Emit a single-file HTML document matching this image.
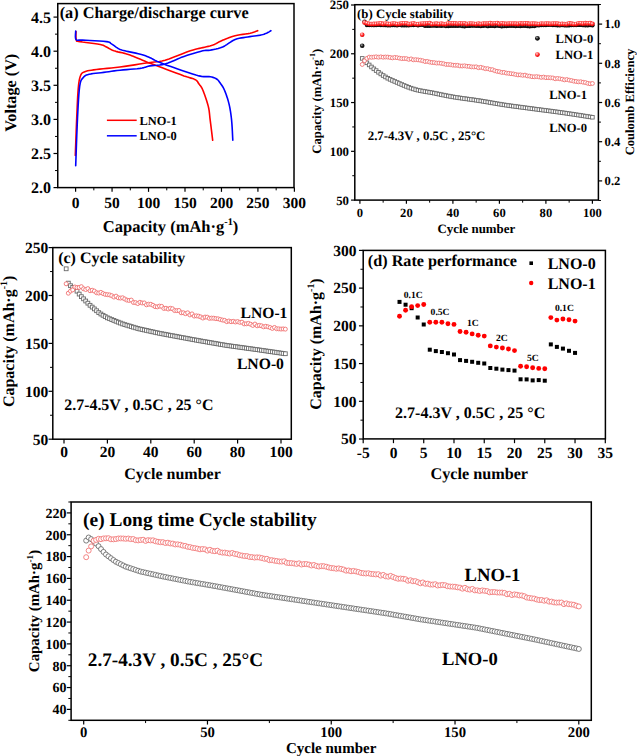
<!DOCTYPE html>
<html><head><meta charset="utf-8"><style>
html,body{margin:0;padding:0;background:#fff;width:637px;height:756px;overflow:hidden}
svg{display:block}
</style></head><body>
<svg width="637" height="756" viewBox="0 0 637 756" font-family="Liberation Serif" font-weight="bold" text-rendering="geometricPrecision">
<rect width="637" height="756" fill="#fff"/>
<defs>
<radialGradient id="gr" cx="0.4" cy="0.35" r="0.65"><stop offset="0" stop-color="#fff0f0"/><stop offset="0.35" stop-color="#ff6060"/><stop offset="0.7" stop-color="#ff1010"/><stop offset="1" stop-color="#d00000"/></radialGradient>
<radialGradient id="gk" cx="0.4" cy="0.35" r="0.65"><stop offset="0" stop-color="#bbbbbb"/><stop offset="0.45" stop-color="#222"/><stop offset="1" stop-color="#000"/></radialGradient>
</defs>
<rect x="57.75" y="3.60" width="236.25" height="184.00" fill="none" stroke="#000" stroke-width="1.5"/>
<line x1="57.75" y1="187.60" x2="53.50" y2="187.60" stroke="#000" stroke-width="1.2"/>
<line x1="57.75" y1="153.50" x2="53.50" y2="153.50" stroke="#000" stroke-width="1.2"/>
<line x1="57.75" y1="119.40" x2="53.50" y2="119.40" stroke="#000" stroke-width="1.2"/>
<line x1="57.75" y1="85.30" x2="53.50" y2="85.30" stroke="#000" stroke-width="1.2"/>
<line x1="57.75" y1="51.20" x2="53.50" y2="51.20" stroke="#000" stroke-width="1.2"/>
<line x1="57.75" y1="17.10" x2="53.50" y2="17.10" stroke="#000" stroke-width="1.2"/>
<line x1="57.75" y1="170.55" x2="55.00" y2="170.55" stroke="#000" stroke-width="1.0"/>
<line x1="57.75" y1="136.45" x2="55.00" y2="136.45" stroke="#000" stroke-width="1.0"/>
<line x1="57.75" y1="102.35" x2="55.00" y2="102.35" stroke="#000" stroke-width="1.0"/>
<line x1="57.75" y1="68.25" x2="55.00" y2="68.25" stroke="#000" stroke-width="1.0"/>
<line x1="57.75" y1="34.15" x2="55.00" y2="34.15" stroke="#000" stroke-width="1.0"/>
<text x="51.0" y="193.0" font-size="16" text-anchor="end" >2.0</text>
<text x="51.0" y="158.9" font-size="16" text-anchor="end" >2.5</text>
<text x="51.0" y="124.8" font-size="16" text-anchor="end" >3.0</text>
<text x="51.0" y="90.7" font-size="16" text-anchor="end" >3.5</text>
<text x="51.0" y="56.6" font-size="16" text-anchor="end" >4.0</text>
<text x="51.0" y="22.5" font-size="16" text-anchor="end" >4.5</text>
<line x1="75.60" y1="187.60" x2="75.60" y2="191.85" stroke="#000" stroke-width="1.2"/>
<line x1="112.06" y1="187.60" x2="112.06" y2="191.85" stroke="#000" stroke-width="1.2"/>
<line x1="148.53" y1="187.60" x2="148.53" y2="191.85" stroke="#000" stroke-width="1.2"/>
<line x1="185.00" y1="187.60" x2="185.00" y2="191.85" stroke="#000" stroke-width="1.2"/>
<line x1="221.46" y1="187.60" x2="221.46" y2="191.85" stroke="#000" stroke-width="1.2"/>
<line x1="257.92" y1="187.60" x2="257.92" y2="191.85" stroke="#000" stroke-width="1.2"/>
<line x1="294.39" y1="187.60" x2="294.39" y2="191.85" stroke="#000" stroke-width="1.2"/>
<line x1="93.83" y1="187.60" x2="93.83" y2="190.35" stroke="#000" stroke-width="1.0"/>
<line x1="130.30" y1="187.60" x2="130.30" y2="190.35" stroke="#000" stroke-width="1.0"/>
<line x1="166.76" y1="187.60" x2="166.76" y2="190.35" stroke="#000" stroke-width="1.0"/>
<line x1="203.23" y1="187.60" x2="203.23" y2="190.35" stroke="#000" stroke-width="1.0"/>
<line x1="239.69" y1="187.60" x2="239.69" y2="190.35" stroke="#000" stroke-width="1.0"/>
<line x1="276.16" y1="187.60" x2="276.16" y2="190.35" stroke="#000" stroke-width="1.0"/>
<text x="75.6" y="207.6" font-size="15.5" text-anchor="middle" >0</text>
<text x="112.1" y="207.6" font-size="15.5" text-anchor="middle" >50</text>
<text x="148.5" y="207.6" font-size="15.5" text-anchor="middle" >100</text>
<text x="185.0" y="207.6" font-size="15.5" text-anchor="middle" >150</text>
<text x="221.5" y="207.6" font-size="15.5" text-anchor="middle" >200</text>
<text x="257.9" y="207.6" font-size="15.5" text-anchor="middle" >250</text>
<text x="294.4" y="207.6" font-size="15.5" text-anchor="middle" >300</text>
<text x="59.7" y="17.9" font-size="16.3" text-anchor="start" >(a) Charge/discharge curve</text>
<text x="102.8" y="232.1" font-size="16.5" text-anchor="start" >Capacity (mAh·g<tspan font-size="0.62em" dy="-0.72em">-1</tspan><tspan dy="0.446em">)</tspan></text>
<text transform="translate(16.2,92.8) rotate(-90)" x="0" y="0" font-size="16.2" text-anchor="middle">Voltage (V)</text>
<path d="M76.00,31.50 L75.99,32.52 L75.95,33.99 L75.92,35.71 L75.94,37.44 L76.05,38.98 L76.30,40.10 L76.53,40.74 L76.67,41.07 L76.91,41.21 L77.42,41.26 L78.39,41.35 L80.00,41.60 L82.57,42.01 L86.03,42.48 L89.94,42.99 L93.89,43.51 L97.45,44.02 L100.20,44.50 L102.03,44.92 L103.25,45.31 L104.09,45.69 L104.75,46.09 L105.45,46.51 L106.40,47.00 L107.53,47.57 L108.65,48.20 L109.81,48.86 L111.05,49.54 L112.43,50.19 L114.00,50.80 L115.83,51.35 L117.89,51.86 L120.09,52.35 L122.33,52.84 L124.50,53.35 L126.50,53.90 L128.30,54.48 L129.98,55.07 L131.59,55.68 L133.19,56.32 L134.84,56.99 L136.60,57.70 L138.50,58.48 L140.49,59.32 L142.54,60.20 L144.59,61.08 L146.59,61.92 L148.50,62.70 L150.14,63.34 L151.50,63.85 L152.82,64.33 L154.32,64.86 L156.24,65.56 L158.80,66.50 L162.30,67.81 L166.61,69.43 L171.34,71.20 L176.08,72.97 L180.43,74.59 L184.00,75.90 L186.78,76.85 L189.08,77.56 L190.99,78.11 L192.61,78.60 L194.02,79.10 L195.30,79.70 L196.36,80.38 L197.09,81.07 L197.62,81.77 L198.04,82.50 L198.47,83.27 L199.00,84.10 L199.61,84.87 L200.20,85.57 L200.79,86.30 L201.40,87.20 L202.07,88.39 L202.80,90.00 L203.66,92.16 L204.64,94.79 L205.67,97.71 L206.67,100.74 L207.57,103.70 L208.30,106.40 L208.82,108.78 L209.18,110.96 L209.44,113.07 L209.66,115.23 L209.89,117.57 L210.20,120.20 L210.61,123.42 L211.08,127.18 L211.57,131.11 L212.03,134.86 L212.42,138.04 L212.70,140.30" fill="none" stroke="#ff0000" stroke-width="1.6" stroke-linejoin="round" stroke-linecap="round"/>
<path d="M75.30,155.40 L75.45,151.27 L75.66,145.49 L75.91,138.68 L76.17,131.46 L76.44,124.46 L76.70,118.30 L76.94,112.79 L77.17,107.39 L77.40,102.20 L77.64,97.35 L77.91,92.94 L78.20,89.10 L78.50,85.88 L78.80,83.21 L79.12,80.99 L79.48,79.12 L79.90,77.49 L80.40,76.00 L80.92,74.75 L81.44,73.84 L82.01,73.17 L82.72,72.65 L83.62,72.19 L84.80,71.70 L86.18,71.22 L87.69,70.82 L89.40,70.49 L91.38,70.18 L93.69,69.86 L96.40,69.50 L99.58,69.12 L103.20,68.76 L107.14,68.38 L111.33,67.98 L115.64,67.52 L120.00,67.00 L124.60,66.37 L129.58,65.63 L134.69,64.85 L139.70,64.07 L144.38,63.33 L148.50,62.70 L151.86,62.26 L154.60,61.99 L157.01,61.77 L159.37,61.48 L161.97,61.00 L165.10,60.20 L168.95,58.96 L173.33,57.35 L177.96,55.54 L182.52,53.73 L186.74,52.09 L190.30,50.80 L193.15,49.90 L195.50,49.25 L197.49,48.77 L199.28,48.39 L201.00,48.02 L202.80,47.60 L204.66,47.16 L206.46,46.76 L208.19,46.38 L209.84,46.00 L211.42,45.58 L212.90,45.10 L214.27,44.54 L215.52,43.91 L216.69,43.26 L217.80,42.60 L218.90,41.97 L220.00,41.40 L221.07,40.91 L222.07,40.47 L223.04,40.06 L224.04,39.66 L225.11,39.25 L226.30,38.80 L227.55,38.31 L228.81,37.78 L230.15,37.24 L231.61,36.71 L233.24,36.19 L235.10,35.70 L237.34,35.25 L239.95,34.82 L242.73,34.41 L245.50,34.01 L248.05,33.61 L250.20,33.20 L251.98,32.75 L253.54,32.27 L254.89,31.79 L256.04,31.35 L256.97,30.97 L257.70,30.70" fill="none" stroke="#ff0000" stroke-width="1.6" stroke-linejoin="round" stroke-linecap="round"/>
<path d="M75.70,31.10 L75.66,32.10 L75.54,33.57 L75.44,35.26 L75.42,36.97 L75.58,38.45 L76.00,39.50 L76.54,40.04 L77.10,40.24 L77.83,40.23 L78.89,40.12 L80.43,40.04 L82.60,40.10 L85.79,40.29 L89.95,40.50 L94.59,40.74 L99.21,41.01 L103.32,41.29 L106.40,41.60 L108.30,41.91 L109.40,42.21 L109.97,42.53 L110.31,42.90 L110.73,43.35 L111.50,43.90 L112.61,44.61 L113.82,45.47 L115.10,46.40 L116.41,47.33 L117.72,48.19 L119.00,48.90 L120.18,49.43 L121.26,49.84 L122.35,50.18 L123.53,50.48 L124.88,50.81 L126.50,51.20 L128.50,51.65 L130.82,52.13 L133.32,52.63 L135.85,53.14 L138.26,53.66 L140.40,54.20 L142.26,54.74 L143.95,55.30 L145.52,55.86 L147.02,56.45 L148.50,57.06 L150.00,57.70 L151.40,58.35 L152.62,59.01 L153.82,59.69 L155.15,60.41 L156.76,61.21 L158.80,62.10 L161.34,63.11 L164.26,64.21 L167.47,65.39 L170.85,66.61 L174.29,67.82 L177.70,69.00 L181.23,70.22 L184.99,71.52 L188.82,72.83 L192.54,74.04 L196.00,75.10 L199.00,75.90 L201.53,76.38 L203.73,76.60 L205.64,76.64 L207.35,76.63 L208.92,76.64 L210.40,76.80 L211.77,77.07 L212.96,77.38 L214.00,77.72 L214.93,78.10 L215.79,78.53 L216.60,79.00 L217.32,79.50 L217.90,80.02 L218.41,80.59 L218.90,81.22 L219.41,81.95 L220.00,82.80 L220.67,83.73 L221.39,84.70 L222.12,85.77 L222.88,86.98 L223.64,88.37 L224.40,90.00 L225.18,91.90 L225.99,94.05 L226.81,96.38 L227.61,98.84 L228.35,101.37 L229.00,103.90 L229.57,106.43 L230.07,109.01 L230.51,111.66 L230.91,114.40 L231.27,117.24 L231.60,120.20 L231.89,123.56 L232.15,127.36 L232.36,131.27 L232.54,134.95 L232.69,138.07 L232.80,140.30" fill="none" stroke="#0000ff" stroke-width="1.6" stroke-linejoin="round" stroke-linecap="round"/>
<path d="M75.70,165.60 L75.89,160.28 L76.15,152.77 L76.46,143.96 L76.80,134.69 L77.16,125.85 L77.50,118.30 L77.83,111.80 L78.15,105.61 L78.49,99.84 L78.85,94.60 L79.25,90.02 L79.70,86.20 L80.19,83.33 L80.71,81.36 L81.28,80.04 L81.89,79.13 L82.56,78.36 L83.30,77.50 L84.04,76.63 L84.74,75.98 L85.51,75.48 L86.43,75.07 L87.60,74.69 L89.10,74.30 L91.00,73.91 L93.25,73.58 L95.74,73.29 L98.38,73.01 L101.07,72.72 L103.70,72.40 L106.28,72.05 L108.87,71.67 L111.51,71.29 L114.23,70.91 L117.05,70.55 L120.00,70.20 L123.23,69.88 L126.76,69.60 L130.39,69.32 L133.94,69.04 L137.20,68.74 L140.00,68.40 L142.19,68.02 L143.89,67.60 L145.31,67.16 L146.66,66.71 L148.15,66.29 L150.00,65.90 L152.18,65.61 L154.51,65.43 L156.99,65.27 L159.60,65.03 L162.30,64.64 L165.10,64.00 L168.03,63.04 L171.12,61.81 L174.32,60.43 L177.57,59.00 L180.81,57.62 L184.00,56.40 L187.27,55.29 L190.70,54.20 L194.13,53.16 L197.40,52.22 L200.34,51.42 L202.80,50.80 L204.61,50.44 L205.86,50.33 L206.79,50.35 L207.63,50.41 L208.62,50.39 L210.00,50.20 L211.79,49.87 L213.80,49.49 L215.97,49.03 L218.21,48.48 L220.44,47.81 L222.60,47.00 L224.69,45.94 L226.77,44.63 L228.85,43.21 L230.93,41.79 L233.01,40.51 L235.10,39.50 L237.19,38.79 L239.29,38.27 L241.39,37.90 L243.50,37.60 L245.60,37.32 L247.70,37.00 L249.87,36.65 L252.14,36.32 L254.40,36.01 L256.57,35.71 L258.57,35.41 L260.30,35.10 L261.72,34.79 L262.91,34.49 L263.91,34.19 L264.80,33.88 L265.64,33.55 L266.50,33.20 L267.39,32.79 L268.26,32.32 L269.09,31.83 L269.83,31.37 L270.44,30.98 L270.90,30.70" fill="none" stroke="#0000ff" stroke-width="1.6" stroke-linejoin="round" stroke-linecap="round"/>
<line x1="106.90" y1="120.30" x2="136.70" y2="120.30" stroke="#ff0000" stroke-width="1.5"/>
<line x1="106.90" y1="135.80" x2="136.70" y2="135.80" stroke="#0000ff" stroke-width="1.5"/>
<text x="139.6" y="124.8" font-size="12.4" text-anchor="start" >LNO-1</text>
<text x="139.6" y="140.2" font-size="12.4" text-anchor="start" >LNO-0</text>
<rect x="354.80" y="4.70" width="243.60" height="195.40" fill="none" stroke="#000" stroke-width="1.5"/>
<line x1="354.80" y1="200.10" x2="351.05" y2="200.10" stroke="#000" stroke-width="1.2"/>
<line x1="354.80" y1="151.33" x2="351.05" y2="151.33" stroke="#000" stroke-width="1.2"/>
<line x1="354.80" y1="102.55" x2="351.05" y2="102.55" stroke="#000" stroke-width="1.2"/>
<line x1="354.80" y1="53.77" x2="351.05" y2="53.77" stroke="#000" stroke-width="1.2"/>
<line x1="354.80" y1="5.00" x2="351.05" y2="5.00" stroke="#000" stroke-width="1.2"/>
<line x1="354.80" y1="175.71" x2="352.25" y2="175.71" stroke="#000" stroke-width="1.0"/>
<line x1="354.80" y1="126.94" x2="352.25" y2="126.94" stroke="#000" stroke-width="1.0"/>
<line x1="354.80" y1="78.16" x2="352.25" y2="78.16" stroke="#000" stroke-width="1.0"/>
<line x1="354.80" y1="29.39" x2="352.25" y2="29.39" stroke="#000" stroke-width="1.0"/>
<text x="349.0" y="204.5" font-size="12.8" text-anchor="end" >50</text>
<text x="349.0" y="155.7" font-size="12.8" text-anchor="end" >100</text>
<text x="349.0" y="106.9" font-size="12.8" text-anchor="end" >150</text>
<text x="349.0" y="58.1" font-size="12.8" text-anchor="end" >200</text>
<text x="349.0" y="9.4" font-size="12.8" text-anchor="end" >250</text>
<line x1="598.40" y1="180.90" x2="602.15" y2="180.90" stroke="#000" stroke-width="1.2"/>
<line x1="598.40" y1="141.70" x2="602.15" y2="141.70" stroke="#000" stroke-width="1.2"/>
<line x1="598.40" y1="102.50" x2="602.15" y2="102.50" stroke="#000" stroke-width="1.2"/>
<line x1="598.40" y1="63.30" x2="602.15" y2="63.30" stroke="#000" stroke-width="1.2"/>
<line x1="598.40" y1="24.10" x2="602.15" y2="24.10" stroke="#000" stroke-width="1.2"/>
<line x1="598.40" y1="200.50" x2="600.95" y2="200.50" stroke="#000" stroke-width="1.0"/>
<line x1="598.40" y1="161.30" x2="600.95" y2="161.30" stroke="#000" stroke-width="1.0"/>
<line x1="598.40" y1="122.10" x2="600.95" y2="122.10" stroke="#000" stroke-width="1.0"/>
<line x1="598.40" y1="82.90" x2="600.95" y2="82.90" stroke="#000" stroke-width="1.0"/>
<line x1="598.40" y1="43.70" x2="600.95" y2="43.70" stroke="#000" stroke-width="1.0"/>
<line x1="598.40" y1="4.50" x2="600.95" y2="4.50" stroke="#000" stroke-width="1.0"/>
<text x="604.6" y="185.2" font-size="12.6" text-anchor="start" >0.2</text>
<text x="604.6" y="146.0" font-size="12.6" text-anchor="start" >0.4</text>
<text x="604.6" y="106.8" font-size="12.6" text-anchor="start" >0.6</text>
<text x="604.6" y="67.6" font-size="12.6" text-anchor="start" >0.8</text>
<text x="604.6" y="28.4" font-size="12.6" text-anchor="start" >1.0</text>
<line x1="359.90" y1="200.10" x2="359.90" y2="203.85" stroke="#000" stroke-width="1.2"/>
<line x1="406.40" y1="200.10" x2="406.40" y2="203.85" stroke="#000" stroke-width="1.2"/>
<line x1="452.90" y1="200.10" x2="452.90" y2="203.85" stroke="#000" stroke-width="1.2"/>
<line x1="499.40" y1="200.10" x2="499.40" y2="203.85" stroke="#000" stroke-width="1.2"/>
<line x1="545.90" y1="200.10" x2="545.90" y2="203.85" stroke="#000" stroke-width="1.2"/>
<line x1="592.40" y1="200.10" x2="592.40" y2="203.85" stroke="#000" stroke-width="1.2"/>
<line x1="383.15" y1="200.10" x2="383.15" y2="202.65" stroke="#000" stroke-width="1.0"/>
<line x1="429.65" y1="200.10" x2="429.65" y2="202.65" stroke="#000" stroke-width="1.0"/>
<line x1="476.15" y1="200.10" x2="476.15" y2="202.65" stroke="#000" stroke-width="1.0"/>
<line x1="522.65" y1="200.10" x2="522.65" y2="202.65" stroke="#000" stroke-width="1.0"/>
<line x1="569.15" y1="200.10" x2="569.15" y2="202.65" stroke="#000" stroke-width="1.0"/>
<text x="359.9" y="217.0" font-size="12.6" text-anchor="middle" >0</text>
<text x="406.4" y="217.0" font-size="12.6" text-anchor="middle" >20</text>
<text x="452.9" y="217.0" font-size="12.6" text-anchor="middle" >40</text>
<text x="499.4" y="217.0" font-size="12.6" text-anchor="middle" >60</text>
<text x="545.9" y="217.0" font-size="12.6" text-anchor="middle" >80</text>
<text x="592.4" y="217.0" font-size="12.6" text-anchor="middle" >100</text>
<text x="357.1" y="17.7" font-size="12.8" text-anchor="start" >(b) Cycle stability</text>
<text x="437.5" y="233.4" font-size="12.9" text-anchor="start" >Cycle number</text>
<text transform="translate(321.2,101.3) rotate(-90)" x="0" y="0" font-size="12.8" text-anchor="middle">Capacity (mAh·g<tspan font-size="0.62em" dy="-0.72em">-1</tspan><tspan dy="0.446em">)</tspan></text>
<text transform="translate(633.5,102.0) rotate(-90)" x="0" y="0" font-size="12.6" text-anchor="middle">Coulomb Efficiency</text>
<text x="367.7" y="139.8" font-size="12.9" text-anchor="start" >2.7-4.3V , 0.5C , 25°C</text>
<text x="549.2" y="99.1" font-size="12.6" text-anchor="start" >LNO-1</text>
<text x="549.2" y="132.0" font-size="12.6" text-anchor="start" >LNO-0</text>
<text x="555.5" y="42.8" font-size="12.6" text-anchor="start" >LNO-0</text>
<text x="555.5" y="58.9" font-size="12.6" text-anchor="start" >LNO-1</text>
<g><rect x="360.42" y="56.61" width="3.6" height="3.6" fill="#fff" stroke="#6a6a6a" stroke-width="0.9"/><rect x="362.75" y="58.83" width="3.6" height="3.6" fill="#fff" stroke="#6a6a6a" stroke-width="0.9"/><rect x="365.07" y="61.03" width="3.6" height="3.6" fill="#fff" stroke="#6a6a6a" stroke-width="0.9"/><rect x="367.40" y="63.14" width="3.6" height="3.6" fill="#fff" stroke="#6a6a6a" stroke-width="0.9"/><rect x="369.72" y="65.17" width="3.6" height="3.6" fill="#fff" stroke="#6a6a6a" stroke-width="0.9"/><rect x="372.05" y="67.03" width="3.6" height="3.6" fill="#fff" stroke="#6a6a6a" stroke-width="0.9"/><rect x="374.37" y="68.78" width="3.6" height="3.6" fill="#fff" stroke="#6a6a6a" stroke-width="0.9"/><rect x="376.70" y="70.50" width="3.6" height="3.6" fill="#fff" stroke="#6a6a6a" stroke-width="0.9"/><rect x="379.02" y="72.16" width="3.6" height="3.6" fill="#fff" stroke="#6a6a6a" stroke-width="0.9"/><rect x="381.35" y="73.72" width="3.6" height="3.6" fill="#fff" stroke="#6a6a6a" stroke-width="0.9"/><rect x="383.67" y="75.14" width="3.6" height="3.6" fill="#fff" stroke="#6a6a6a" stroke-width="0.9"/><rect x="386.00" y="76.44" width="3.6" height="3.6" fill="#fff" stroke="#6a6a6a" stroke-width="0.9"/><rect x="388.32" y="77.58" width="3.6" height="3.6" fill="#fff" stroke="#6a6a6a" stroke-width="0.9"/><rect x="390.65" y="78.63" width="3.6" height="3.6" fill="#fff" stroke="#6a6a6a" stroke-width="0.9"/><rect x="392.97" y="79.65" width="3.6" height="3.6" fill="#fff" stroke="#6a6a6a" stroke-width="0.9"/><rect x="395.30" y="80.67" width="3.6" height="3.6" fill="#fff" stroke="#6a6a6a" stroke-width="0.9"/><rect x="397.62" y="81.69" width="3.6" height="3.6" fill="#fff" stroke="#6a6a6a" stroke-width="0.9"/><rect x="399.95" y="82.70" width="3.6" height="3.6" fill="#fff" stroke="#6a6a6a" stroke-width="0.9"/><rect x="402.27" y="83.68" width="3.6" height="3.6" fill="#fff" stroke="#6a6a6a" stroke-width="0.9"/><rect x="404.60" y="84.62" width="3.6" height="3.6" fill="#fff" stroke="#6a6a6a" stroke-width="0.9"/><rect x="406.92" y="85.52" width="3.6" height="3.6" fill="#fff" stroke="#6a6a6a" stroke-width="0.9"/><rect x="409.25" y="86.36" width="3.6" height="3.6" fill="#fff" stroke="#6a6a6a" stroke-width="0.9"/><rect x="411.57" y="87.13" width="3.6" height="3.6" fill="#fff" stroke="#6a6a6a" stroke-width="0.9"/><rect x="413.90" y="87.81" width="3.6" height="3.6" fill="#fff" stroke="#6a6a6a" stroke-width="0.9"/><rect x="416.22" y="88.38" width="3.6" height="3.6" fill="#fff" stroke="#6a6a6a" stroke-width="0.9"/><rect x="418.55" y="88.87" width="3.6" height="3.6" fill="#fff" stroke="#6a6a6a" stroke-width="0.9"/><rect x="420.87" y="89.31" width="3.6" height="3.6" fill="#fff" stroke="#6a6a6a" stroke-width="0.9"/><rect x="423.20" y="89.72" width="3.6" height="3.6" fill="#fff" stroke="#6a6a6a" stroke-width="0.9"/><rect x="425.52" y="90.11" width="3.6" height="3.6" fill="#fff" stroke="#6a6a6a" stroke-width="0.9"/><rect x="427.85" y="90.50" width="3.6" height="3.6" fill="#fff" stroke="#6a6a6a" stroke-width="0.9"/><rect x="430.17" y="90.91" width="3.6" height="3.6" fill="#fff" stroke="#6a6a6a" stroke-width="0.9"/><rect x="432.50" y="91.36" width="3.6" height="3.6" fill="#fff" stroke="#6a6a6a" stroke-width="0.9"/><rect x="434.82" y="91.84" width="3.6" height="3.6" fill="#fff" stroke="#6a6a6a" stroke-width="0.9"/><rect x="437.15" y="92.33" width="3.6" height="3.6" fill="#fff" stroke="#6a6a6a" stroke-width="0.9"/><rect x="439.47" y="92.82" width="3.6" height="3.6" fill="#fff" stroke="#6a6a6a" stroke-width="0.9"/><rect x="441.80" y="93.31" width="3.6" height="3.6" fill="#fff" stroke="#6a6a6a" stroke-width="0.9"/><rect x="444.12" y="93.78" width="3.6" height="3.6" fill="#fff" stroke="#6a6a6a" stroke-width="0.9"/><rect x="446.45" y="94.23" width="3.6" height="3.6" fill="#fff" stroke="#6a6a6a" stroke-width="0.9"/><rect x="448.77" y="94.66" width="3.6" height="3.6" fill="#fff" stroke="#6a6a6a" stroke-width="0.9"/><rect x="451.10" y="95.07" width="3.6" height="3.6" fill="#fff" stroke="#6a6a6a" stroke-width="0.9"/><rect x="453.42" y="95.44" width="3.6" height="3.6" fill="#fff" stroke="#6a6a6a" stroke-width="0.9"/><rect x="455.75" y="95.80" width="3.6" height="3.6" fill="#fff" stroke="#6a6a6a" stroke-width="0.9"/><rect x="458.07" y="96.14" width="3.6" height="3.6" fill="#fff" stroke="#6a6a6a" stroke-width="0.9"/><rect x="460.40" y="96.47" width="3.6" height="3.6" fill="#fff" stroke="#6a6a6a" stroke-width="0.9"/><rect x="462.72" y="96.80" width="3.6" height="3.6" fill="#fff" stroke="#6a6a6a" stroke-width="0.9"/><rect x="465.05" y="97.12" width="3.6" height="3.6" fill="#fff" stroke="#6a6a6a" stroke-width="0.9"/><rect x="467.37" y="97.44" width="3.6" height="3.6" fill="#fff" stroke="#6a6a6a" stroke-width="0.9"/><rect x="469.70" y="97.76" width="3.6" height="3.6" fill="#fff" stroke="#6a6a6a" stroke-width="0.9"/><rect x="472.02" y="98.09" width="3.6" height="3.6" fill="#fff" stroke="#6a6a6a" stroke-width="0.9"/><rect x="474.35" y="98.42" width="3.6" height="3.6" fill="#fff" stroke="#6a6a6a" stroke-width="0.9"/><rect x="476.67" y="98.77" width="3.6" height="3.6" fill="#fff" stroke="#6a6a6a" stroke-width="0.9"/><rect x="479.00" y="99.13" width="3.6" height="3.6" fill="#fff" stroke="#6a6a6a" stroke-width="0.9"/><rect x="481.32" y="99.50" width="3.6" height="3.6" fill="#fff" stroke="#6a6a6a" stroke-width="0.9"/><rect x="483.65" y="99.89" width="3.6" height="3.6" fill="#fff" stroke="#6a6a6a" stroke-width="0.9"/><rect x="485.97" y="100.29" width="3.6" height="3.6" fill="#fff" stroke="#6a6a6a" stroke-width="0.9"/><rect x="488.30" y="100.70" width="3.6" height="3.6" fill="#fff" stroke="#6a6a6a" stroke-width="0.9"/><rect x="490.62" y="101.11" width="3.6" height="3.6" fill="#fff" stroke="#6a6a6a" stroke-width="0.9"/><rect x="492.95" y="101.52" width="3.6" height="3.6" fill="#fff" stroke="#6a6a6a" stroke-width="0.9"/><rect x="495.27" y="101.92" width="3.6" height="3.6" fill="#fff" stroke="#6a6a6a" stroke-width="0.9"/><rect x="497.60" y="102.31" width="3.6" height="3.6" fill="#fff" stroke="#6a6a6a" stroke-width="0.9"/><rect x="499.93" y="102.69" width="3.6" height="3.6" fill="#fff" stroke="#6a6a6a" stroke-width="0.9"/><rect x="502.25" y="103.05" width="3.6" height="3.6" fill="#fff" stroke="#6a6a6a" stroke-width="0.9"/><rect x="504.57" y="103.39" width="3.6" height="3.6" fill="#fff" stroke="#6a6a6a" stroke-width="0.9"/><rect x="506.90" y="103.73" width="3.6" height="3.6" fill="#fff" stroke="#6a6a6a" stroke-width="0.9"/><rect x="509.22" y="104.05" width="3.6" height="3.6" fill="#fff" stroke="#6a6a6a" stroke-width="0.9"/><rect x="511.55" y="104.37" width="3.6" height="3.6" fill="#fff" stroke="#6a6a6a" stroke-width="0.9"/><rect x="513.88" y="104.69" width="3.6" height="3.6" fill="#fff" stroke="#6a6a6a" stroke-width="0.9"/><rect x="516.20" y="105.00" width="3.6" height="3.6" fill="#fff" stroke="#6a6a6a" stroke-width="0.9"/><rect x="518.53" y="105.31" width="3.6" height="3.6" fill="#fff" stroke="#6a6a6a" stroke-width="0.9"/><rect x="520.85" y="105.62" width="3.6" height="3.6" fill="#fff" stroke="#6a6a6a" stroke-width="0.9"/><rect x="523.18" y="105.92" width="3.6" height="3.6" fill="#fff" stroke="#6a6a6a" stroke-width="0.9"/><rect x="525.50" y="106.23" width="3.6" height="3.6" fill="#fff" stroke="#6a6a6a" stroke-width="0.9"/><rect x="527.83" y="106.53" width="3.6" height="3.6" fill="#fff" stroke="#6a6a6a" stroke-width="0.9"/><rect x="530.15" y="106.84" width="3.6" height="3.6" fill="#fff" stroke="#6a6a6a" stroke-width="0.9"/><rect x="532.48" y="107.15" width="3.6" height="3.6" fill="#fff" stroke="#6a6a6a" stroke-width="0.9"/><rect x="534.80" y="107.46" width="3.6" height="3.6" fill="#fff" stroke="#6a6a6a" stroke-width="0.9"/><rect x="537.12" y="107.76" width="3.6" height="3.6" fill="#fff" stroke="#6a6a6a" stroke-width="0.9"/><rect x="539.45" y="108.07" width="3.6" height="3.6" fill="#fff" stroke="#6a6a6a" stroke-width="0.9"/><rect x="541.78" y="108.37" width="3.6" height="3.6" fill="#fff" stroke="#6a6a6a" stroke-width="0.9"/><rect x="544.10" y="108.67" width="3.6" height="3.6" fill="#fff" stroke="#6a6a6a" stroke-width="0.9"/><rect x="546.43" y="108.97" width="3.6" height="3.6" fill="#fff" stroke="#6a6a6a" stroke-width="0.9"/><rect x="548.75" y="109.27" width="3.6" height="3.6" fill="#fff" stroke="#6a6a6a" stroke-width="0.9"/><rect x="551.08" y="109.58" width="3.6" height="3.6" fill="#fff" stroke="#6a6a6a" stroke-width="0.9"/><rect x="553.40" y="109.89" width="3.6" height="3.6" fill="#fff" stroke="#6a6a6a" stroke-width="0.9"/><rect x="555.73" y="110.20" width="3.6" height="3.6" fill="#fff" stroke="#6a6a6a" stroke-width="0.9"/><rect x="558.05" y="110.52" width="3.6" height="3.6" fill="#fff" stroke="#6a6a6a" stroke-width="0.9"/><rect x="560.38" y="110.84" width="3.6" height="3.6" fill="#fff" stroke="#6a6a6a" stroke-width="0.9"/><rect x="562.70" y="111.17" width="3.6" height="3.6" fill="#fff" stroke="#6a6a6a" stroke-width="0.9"/><rect x="565.03" y="111.51" width="3.6" height="3.6" fill="#fff" stroke="#6a6a6a" stroke-width="0.9"/><rect x="567.35" y="111.86" width="3.6" height="3.6" fill="#fff" stroke="#6a6a6a" stroke-width="0.9"/><rect x="569.68" y="112.21" width="3.6" height="3.6" fill="#fff" stroke="#6a6a6a" stroke-width="0.9"/><rect x="572.00" y="112.56" width="3.6" height="3.6" fill="#fff" stroke="#6a6a6a" stroke-width="0.9"/><rect x="574.33" y="112.92" width="3.6" height="3.6" fill="#fff" stroke="#6a6a6a" stroke-width="0.9"/><rect x="576.65" y="113.28" width="3.6" height="3.6" fill="#fff" stroke="#6a6a6a" stroke-width="0.9"/><rect x="578.98" y="113.64" width="3.6" height="3.6" fill="#fff" stroke="#6a6a6a" stroke-width="0.9"/><rect x="581.30" y="114.00" width="3.6" height="3.6" fill="#fff" stroke="#6a6a6a" stroke-width="0.9"/><rect x="583.62" y="114.37" width="3.6" height="3.6" fill="#fff" stroke="#6a6a6a" stroke-width="0.9"/><rect x="585.95" y="114.73" width="3.6" height="3.6" fill="#fff" stroke="#6a6a6a" stroke-width="0.9"/><rect x="588.28" y="115.09" width="3.6" height="3.6" fill="#fff" stroke="#6a6a6a" stroke-width="0.9"/><rect x="590.60" y="115.45" width="3.6" height="3.6" fill="#fff" stroke="#6a6a6a" stroke-width="0.9"/></g>
<g><circle cx="362.22" cy="64.46" r="1.95" fill="#fff" stroke="#f07070" stroke-width="0.9"/><circle cx="364.55" cy="60.76" r="1.95" fill="#fff" stroke="#f07070" stroke-width="0.9"/><circle cx="366.88" cy="58.36" r="1.95" fill="#fff" stroke="#f07070" stroke-width="0.9"/><circle cx="369.20" cy="57.10" r="1.95" fill="#fff" stroke="#f07070" stroke-width="0.9"/><circle cx="371.52" cy="57.29" r="1.95" fill="#fff" stroke="#f07070" stroke-width="0.9"/><circle cx="373.85" cy="57.08" r="1.95" fill="#fff" stroke="#f07070" stroke-width="0.9"/><circle cx="376.17" cy="56.82" r="1.95" fill="#fff" stroke="#f07070" stroke-width="0.9"/><circle cx="378.50" cy="57.20" r="1.95" fill="#fff" stroke="#f07070" stroke-width="0.9"/><circle cx="380.82" cy="56.86" r="1.95" fill="#fff" stroke="#f07070" stroke-width="0.9"/><circle cx="383.15" cy="57.22" r="1.95" fill="#fff" stroke="#f07070" stroke-width="0.9"/><circle cx="385.47" cy="57.00" r="1.95" fill="#fff" stroke="#f07070" stroke-width="0.9"/><circle cx="387.80" cy="57.09" r="1.95" fill="#fff" stroke="#f07070" stroke-width="0.9"/><circle cx="390.12" cy="57.45" r="1.95" fill="#fff" stroke="#f07070" stroke-width="0.9"/><circle cx="392.45" cy="57.87" r="1.95" fill="#fff" stroke="#f07070" stroke-width="0.9"/><circle cx="394.77" cy="57.43" r="1.95" fill="#fff" stroke="#f07070" stroke-width="0.9"/><circle cx="397.10" cy="57.66" r="1.95" fill="#fff" stroke="#f07070" stroke-width="0.9"/><circle cx="399.42" cy="58.15" r="1.95" fill="#fff" stroke="#f07070" stroke-width="0.9"/><circle cx="401.75" cy="58.60" r="1.95" fill="#fff" stroke="#f07070" stroke-width="0.9"/><circle cx="404.07" cy="58.53" r="1.95" fill="#fff" stroke="#f07070" stroke-width="0.9"/><circle cx="406.40" cy="58.63" r="1.95" fill="#fff" stroke="#f07070" stroke-width="0.9"/><circle cx="408.72" cy="59.35" r="1.95" fill="#fff" stroke="#f07070" stroke-width="0.9"/><circle cx="411.05" cy="58.89" r="1.95" fill="#fff" stroke="#f07070" stroke-width="0.9"/><circle cx="413.38" cy="59.82" r="1.95" fill="#fff" stroke="#f07070" stroke-width="0.9"/><circle cx="415.70" cy="59.67" r="1.95" fill="#fff" stroke="#f07070" stroke-width="0.9"/><circle cx="418.02" cy="59.88" r="1.95" fill="#fff" stroke="#f07070" stroke-width="0.9"/><circle cx="420.35" cy="60.22" r="1.95" fill="#fff" stroke="#f07070" stroke-width="0.9"/><circle cx="422.67" cy="60.74" r="1.95" fill="#fff" stroke="#f07070" stroke-width="0.9"/><circle cx="425.00" cy="61.53" r="1.95" fill="#fff" stroke="#f07070" stroke-width="0.9"/><circle cx="427.32" cy="61.40" r="1.95" fill="#fff" stroke="#f07070" stroke-width="0.9"/><circle cx="429.65" cy="62.09" r="1.95" fill="#fff" stroke="#f07070" stroke-width="0.9"/><circle cx="431.97" cy="62.49" r="1.95" fill="#fff" stroke="#f07070" stroke-width="0.9"/><circle cx="434.30" cy="62.61" r="1.95" fill="#fff" stroke="#f07070" stroke-width="0.9"/><circle cx="436.62" cy="63.08" r="1.95" fill="#fff" stroke="#f07070" stroke-width="0.9"/><circle cx="438.95" cy="63.01" r="1.95" fill="#fff" stroke="#f07070" stroke-width="0.9"/><circle cx="441.27" cy="63.33" r="1.95" fill="#fff" stroke="#f07070" stroke-width="0.9"/><circle cx="443.60" cy="63.75" r="1.95" fill="#fff" stroke="#f07070" stroke-width="0.9"/><circle cx="445.92" cy="64.42" r="1.95" fill="#fff" stroke="#f07070" stroke-width="0.9"/><circle cx="448.25" cy="64.50" r="1.95" fill="#fff" stroke="#f07070" stroke-width="0.9"/><circle cx="450.57" cy="64.68" r="1.95" fill="#fff" stroke="#f07070" stroke-width="0.9"/><circle cx="452.90" cy="65.15" r="1.95" fill="#fff" stroke="#f07070" stroke-width="0.9"/><circle cx="455.22" cy="65.27" r="1.95" fill="#fff" stroke="#f07070" stroke-width="0.9"/><circle cx="457.55" cy="65.34" r="1.95" fill="#fff" stroke="#f07070" stroke-width="0.9"/><circle cx="459.88" cy="65.92" r="1.95" fill="#fff" stroke="#f07070" stroke-width="0.9"/><circle cx="462.20" cy="66.01" r="1.95" fill="#fff" stroke="#f07070" stroke-width="0.9"/><circle cx="464.52" cy="65.81" r="1.95" fill="#fff" stroke="#f07070" stroke-width="0.9"/><circle cx="466.85" cy="66.24" r="1.95" fill="#fff" stroke="#f07070" stroke-width="0.9"/><circle cx="469.17" cy="66.38" r="1.95" fill="#fff" stroke="#f07070" stroke-width="0.9"/><circle cx="471.50" cy="66.85" r="1.95" fill="#fff" stroke="#f07070" stroke-width="0.9"/><circle cx="473.82" cy="66.95" r="1.95" fill="#fff" stroke="#f07070" stroke-width="0.9"/><circle cx="476.15" cy="66.84" r="1.95" fill="#fff" stroke="#f07070" stroke-width="0.9"/><circle cx="478.47" cy="67.68" r="1.95" fill="#fff" stroke="#f07070" stroke-width="0.9"/><circle cx="480.80" cy="67.32" r="1.95" fill="#fff" stroke="#f07070" stroke-width="0.9"/><circle cx="483.12" cy="67.96" r="1.95" fill="#fff" stroke="#f07070" stroke-width="0.9"/><circle cx="485.45" cy="68.68" r="1.95" fill="#fff" stroke="#f07070" stroke-width="0.9"/><circle cx="487.77" cy="68.69" r="1.95" fill="#fff" stroke="#f07070" stroke-width="0.9"/><circle cx="490.10" cy="69.49" r="1.95" fill="#fff" stroke="#f07070" stroke-width="0.9"/><circle cx="492.42" cy="69.68" r="1.95" fill="#fff" stroke="#f07070" stroke-width="0.9"/><circle cx="494.75" cy="70.73" r="1.95" fill="#fff" stroke="#f07070" stroke-width="0.9"/><circle cx="497.07" cy="71.35" r="1.95" fill="#fff" stroke="#f07070" stroke-width="0.9"/><circle cx="499.40" cy="71.71" r="1.95" fill="#fff" stroke="#f07070" stroke-width="0.9"/><circle cx="501.73" cy="72.42" r="1.95" fill="#fff" stroke="#f07070" stroke-width="0.9"/><circle cx="504.05" cy="72.39" r="1.95" fill="#fff" stroke="#f07070" stroke-width="0.9"/><circle cx="506.38" cy="73.08" r="1.95" fill="#fff" stroke="#f07070" stroke-width="0.9"/><circle cx="508.70" cy="73.35" r="1.95" fill="#fff" stroke="#f07070" stroke-width="0.9"/><circle cx="511.02" cy="73.69" r="1.95" fill="#fff" stroke="#f07070" stroke-width="0.9"/><circle cx="513.35" cy="73.92" r="1.95" fill="#fff" stroke="#f07070" stroke-width="0.9"/><circle cx="515.67" cy="74.54" r="1.95" fill="#fff" stroke="#f07070" stroke-width="0.9"/><circle cx="518.00" cy="74.93" r="1.95" fill="#fff" stroke="#f07070" stroke-width="0.9"/><circle cx="520.33" cy="74.85" r="1.95" fill="#fff" stroke="#f07070" stroke-width="0.9"/><circle cx="522.65" cy="75.30" r="1.95" fill="#fff" stroke="#f07070" stroke-width="0.9"/><circle cx="524.98" cy="75.10" r="1.95" fill="#fff" stroke="#f07070" stroke-width="0.9"/><circle cx="527.30" cy="75.89" r="1.95" fill="#fff" stroke="#f07070" stroke-width="0.9"/><circle cx="529.62" cy="76.12" r="1.95" fill="#fff" stroke="#f07070" stroke-width="0.9"/><circle cx="531.95" cy="76.67" r="1.95" fill="#fff" stroke="#f07070" stroke-width="0.9"/><circle cx="534.27" cy="76.80" r="1.95" fill="#fff" stroke="#f07070" stroke-width="0.9"/><circle cx="536.60" cy="76.62" r="1.95" fill="#fff" stroke="#f07070" stroke-width="0.9"/><circle cx="538.92" cy="76.94" r="1.95" fill="#fff" stroke="#f07070" stroke-width="0.9"/><circle cx="541.25" cy="77.39" r="1.95" fill="#fff" stroke="#f07070" stroke-width="0.9"/><circle cx="543.58" cy="77.09" r="1.95" fill="#fff" stroke="#f07070" stroke-width="0.9"/><circle cx="545.90" cy="77.65" r="1.95" fill="#fff" stroke="#f07070" stroke-width="0.9"/><circle cx="548.23" cy="77.62" r="1.95" fill="#fff" stroke="#f07070" stroke-width="0.9"/><circle cx="550.55" cy="77.79" r="1.95" fill="#fff" stroke="#f07070" stroke-width="0.9"/><circle cx="552.88" cy="77.95" r="1.95" fill="#fff" stroke="#f07070" stroke-width="0.9"/><circle cx="555.20" cy="78.74" r="1.95" fill="#fff" stroke="#f07070" stroke-width="0.9"/><circle cx="557.52" cy="78.45" r="1.95" fill="#fff" stroke="#f07070" stroke-width="0.9"/><circle cx="559.85" cy="78.80" r="1.95" fill="#fff" stroke="#f07070" stroke-width="0.9"/><circle cx="562.17" cy="79.18" r="1.95" fill="#fff" stroke="#f07070" stroke-width="0.9"/><circle cx="564.50" cy="79.85" r="1.95" fill="#fff" stroke="#f07070" stroke-width="0.9"/><circle cx="566.83" cy="79.53" r="1.95" fill="#fff" stroke="#f07070" stroke-width="0.9"/><circle cx="569.15" cy="80.14" r="1.95" fill="#fff" stroke="#f07070" stroke-width="0.9"/><circle cx="571.48" cy="80.56" r="1.95" fill="#fff" stroke="#f07070" stroke-width="0.9"/><circle cx="573.80" cy="81.17" r="1.95" fill="#fff" stroke="#f07070" stroke-width="0.9"/><circle cx="576.12" cy="81.47" r="1.95" fill="#fff" stroke="#f07070" stroke-width="0.9"/><circle cx="578.45" cy="81.86" r="1.95" fill="#fff" stroke="#f07070" stroke-width="0.9"/><circle cx="580.77" cy="81.75" r="1.95" fill="#fff" stroke="#f07070" stroke-width="0.9"/><circle cx="583.10" cy="82.22" r="1.95" fill="#fff" stroke="#f07070" stroke-width="0.9"/><circle cx="585.42" cy="82.55" r="1.95" fill="#fff" stroke="#f07070" stroke-width="0.9"/><circle cx="587.75" cy="83.33" r="1.95" fill="#fff" stroke="#f07070" stroke-width="0.9"/><circle cx="590.08" cy="83.76" r="1.95" fill="#fff" stroke="#f07070" stroke-width="0.9"/><circle cx="592.40" cy="83.47" r="1.95" fill="#fff" stroke="#f07070" stroke-width="0.9"/></g>
<g><circle cx="364.55" cy="21.61" r="2.2" fill="url(#gk)"/><circle cx="366.88" cy="24.94" r="2.2" fill="url(#gk)"/><circle cx="369.20" cy="24.94" r="2.2" fill="url(#gk)"/><circle cx="371.52" cy="25.09" r="2.2" fill="url(#gk)"/><circle cx="373.85" cy="25.15" r="2.2" fill="url(#gk)"/><circle cx="376.17" cy="24.96" r="2.2" fill="url(#gk)"/><circle cx="378.50" cy="24.80" r="2.2" fill="url(#gk)"/><circle cx="380.82" cy="25.05" r="2.2" fill="url(#gk)"/><circle cx="383.15" cy="25.02" r="2.2" fill="url(#gk)"/><circle cx="385.47" cy="25.14" r="2.2" fill="url(#gk)"/><circle cx="387.80" cy="25.37" r="2.2" fill="url(#gk)"/><circle cx="390.12" cy="25.21" r="2.2" fill="url(#gk)"/><circle cx="392.45" cy="25.11" r="2.2" fill="url(#gk)"/><circle cx="394.77" cy="25.17" r="2.2" fill="url(#gk)"/><circle cx="397.10" cy="25.21" r="2.2" fill="url(#gk)"/><circle cx="399.42" cy="24.83" r="2.2" fill="url(#gk)"/><circle cx="401.75" cy="25.34" r="2.2" fill="url(#gk)"/><circle cx="404.07" cy="25.27" r="2.2" fill="url(#gk)"/><circle cx="406.40" cy="25.32" r="2.2" fill="url(#gk)"/><circle cx="408.72" cy="25.28" r="2.2" fill="url(#gk)"/><circle cx="411.05" cy="25.04" r="2.2" fill="url(#gk)"/><circle cx="413.38" cy="25.04" r="2.2" fill="url(#gk)"/><circle cx="415.70" cy="24.86" r="2.2" fill="url(#gk)"/><circle cx="418.02" cy="25.18" r="2.2" fill="url(#gk)"/><circle cx="420.35" cy="24.84" r="2.2" fill="url(#gk)"/><circle cx="422.67" cy="24.84" r="2.2" fill="url(#gk)"/><circle cx="425.00" cy="25.73" r="2.2" fill="url(#gk)"/><circle cx="427.32" cy="25.70" r="2.2" fill="url(#gk)"/><circle cx="429.65" cy="25.80" r="2.2" fill="url(#gk)"/><circle cx="431.97" cy="25.63" r="2.2" fill="url(#gk)"/><circle cx="434.30" cy="25.60" r="2.2" fill="url(#gk)"/><circle cx="436.62" cy="25.69" r="2.2" fill="url(#gk)"/><circle cx="438.95" cy="25.66" r="2.2" fill="url(#gk)"/><circle cx="441.27" cy="25.82" r="2.2" fill="url(#gk)"/><circle cx="443.60" cy="25.62" r="2.2" fill="url(#gk)"/><circle cx="445.92" cy="26.12" r="2.2" fill="url(#gk)"/><circle cx="448.25" cy="25.97" r="2.2" fill="url(#gk)"/><circle cx="450.57" cy="25.69" r="2.2" fill="url(#gk)"/><circle cx="452.90" cy="25.75" r="2.2" fill="url(#gk)"/><circle cx="455.22" cy="25.81" r="2.2" fill="url(#gk)"/><circle cx="457.55" cy="25.82" r="2.2" fill="url(#gk)"/><circle cx="459.88" cy="25.67" r="2.2" fill="url(#gk)"/><circle cx="462.20" cy="26.11" r="2.2" fill="url(#gk)"/><circle cx="464.52" cy="26.20" r="2.2" fill="url(#gk)"/><circle cx="466.85" cy="25.88" r="2.2" fill="url(#gk)"/><circle cx="469.17" cy="25.89" r="2.2" fill="url(#gk)"/><circle cx="471.50" cy="25.65" r="2.2" fill="url(#gk)"/><circle cx="473.82" cy="25.66" r="2.2" fill="url(#gk)"/><circle cx="476.15" cy="25.81" r="2.2" fill="url(#gk)"/><circle cx="478.47" cy="25.76" r="2.2" fill="url(#gk)"/><circle cx="480.80" cy="26.10" r="2.2" fill="url(#gk)"/><circle cx="483.12" cy="25.70" r="2.2" fill="url(#gk)"/><circle cx="485.45" cy="25.61" r="2.2" fill="url(#gk)"/><circle cx="487.77" cy="26.17" r="2.2" fill="url(#gk)"/><circle cx="490.10" cy="25.92" r="2.2" fill="url(#gk)"/><circle cx="492.42" cy="25.69" r="2.2" fill="url(#gk)"/><circle cx="494.75" cy="25.93" r="2.2" fill="url(#gk)"/><circle cx="497.07" cy="25.62" r="2.2" fill="url(#gk)"/><circle cx="499.40" cy="25.92" r="2.2" fill="url(#gk)"/><circle cx="501.73" cy="26.19" r="2.2" fill="url(#gk)"/><circle cx="504.05" cy="26.12" r="2.2" fill="url(#gk)"/><circle cx="506.38" cy="26.02" r="2.2" fill="url(#gk)"/><circle cx="508.70" cy="25.76" r="2.2" fill="url(#gk)"/><circle cx="511.02" cy="25.82" r="2.2" fill="url(#gk)"/><circle cx="513.35" cy="25.70" r="2.2" fill="url(#gk)"/><circle cx="515.67" cy="26.06" r="2.2" fill="url(#gk)"/><circle cx="518.00" cy="25.92" r="2.2" fill="url(#gk)"/><circle cx="520.33" cy="26.07" r="2.2" fill="url(#gk)"/><circle cx="522.65" cy="25.80" r="2.2" fill="url(#gk)"/><circle cx="524.98" cy="25.73" r="2.2" fill="url(#gk)"/><circle cx="527.30" cy="26.09" r="2.2" fill="url(#gk)"/><circle cx="529.62" cy="26.19" r="2.2" fill="url(#gk)"/><circle cx="531.95" cy="26.11" r="2.2" fill="url(#gk)"/><circle cx="534.27" cy="26.08" r="2.2" fill="url(#gk)"/><circle cx="536.60" cy="25.29" r="2.2" fill="url(#gk)"/><circle cx="538.92" cy="25.24" r="2.2" fill="url(#gk)"/><circle cx="541.25" cy="24.94" r="2.2" fill="url(#gk)"/><circle cx="543.58" cy="25.11" r="2.2" fill="url(#gk)"/><circle cx="545.90" cy="25.01" r="2.2" fill="url(#gk)"/><circle cx="548.23" cy="24.82" r="2.2" fill="url(#gk)"/><circle cx="550.55" cy="24.82" r="2.2" fill="url(#gk)"/><circle cx="552.88" cy="24.97" r="2.2" fill="url(#gk)"/><circle cx="555.20" cy="24.96" r="2.2" fill="url(#gk)"/><circle cx="557.52" cy="25.22" r="2.2" fill="url(#gk)"/><circle cx="559.85" cy="25.37" r="2.2" fill="url(#gk)"/><circle cx="562.17" cy="25.07" r="2.2" fill="url(#gk)"/><circle cx="564.50" cy="25.36" r="2.2" fill="url(#gk)"/><circle cx="566.83" cy="25.39" r="2.2" fill="url(#gk)"/><circle cx="569.15" cy="25.37" r="2.2" fill="url(#gk)"/><circle cx="571.48" cy="25.02" r="2.2" fill="url(#gk)"/><circle cx="573.80" cy="24.93" r="2.2" fill="url(#gk)"/><circle cx="576.12" cy="24.94" r="2.2" fill="url(#gk)"/><circle cx="578.45" cy="24.92" r="2.2" fill="url(#gk)"/><circle cx="580.77" cy="24.92" r="2.2" fill="url(#gk)"/><circle cx="583.10" cy="25.17" r="2.2" fill="url(#gk)"/><circle cx="585.42" cy="25.34" r="2.2" fill="url(#gk)"/><circle cx="587.75" cy="25.30" r="2.2" fill="url(#gk)"/><circle cx="590.08" cy="25.09" r="2.2" fill="url(#gk)"/><circle cx="592.40" cy="25.19" r="2.2" fill="url(#gk)"/><circle cx="364.55" cy="22.60" r="2.4" fill="url(#gr)"/><circle cx="366.88" cy="23.28" r="2.4" fill="url(#gr)"/><circle cx="369.20" cy="23.86" r="2.4" fill="url(#gr)"/><circle cx="371.52" cy="24.11" r="2.4" fill="url(#gr)"/><circle cx="373.85" cy="23.98" r="2.4" fill="url(#gr)"/><circle cx="376.17" cy="23.95" r="2.4" fill="url(#gr)"/><circle cx="378.50" cy="23.68" r="2.4" fill="url(#gr)"/><circle cx="380.82" cy="23.38" r="2.4" fill="url(#gr)"/><circle cx="383.15" cy="23.99" r="2.4" fill="url(#gr)"/><circle cx="385.47" cy="23.53" r="2.4" fill="url(#gr)"/><circle cx="387.80" cy="24.00" r="2.4" fill="url(#gr)"/><circle cx="390.12" cy="24.17" r="2.4" fill="url(#gr)"/><circle cx="392.45" cy="23.60" r="2.4" fill="url(#gr)"/><circle cx="394.77" cy="23.60" r="2.4" fill="url(#gr)"/><circle cx="397.10" cy="24.15" r="2.4" fill="url(#gr)"/><circle cx="399.42" cy="23.92" r="2.4" fill="url(#gr)"/><circle cx="401.75" cy="23.37" r="2.4" fill="url(#gr)"/><circle cx="404.07" cy="23.33" r="2.4" fill="url(#gr)"/><circle cx="406.40" cy="23.35" r="2.4" fill="url(#gr)"/><circle cx="408.72" cy="24.10" r="2.4" fill="url(#gr)"/><circle cx="411.05" cy="24.01" r="2.4" fill="url(#gr)"/><circle cx="413.38" cy="23.35" r="2.4" fill="url(#gr)"/><circle cx="415.70" cy="24.03" r="2.4" fill="url(#gr)"/><circle cx="418.02" cy="24.18" r="2.4" fill="url(#gr)"/><circle cx="420.35" cy="23.86" r="2.4" fill="url(#gr)"/><circle cx="422.67" cy="23.55" r="2.4" fill="url(#gr)"/><circle cx="425.00" cy="23.75" r="2.4" fill="url(#gr)"/><circle cx="427.32" cy="23.33" r="2.4" fill="url(#gr)"/><circle cx="429.65" cy="23.21" r="2.4" fill="url(#gr)"/><circle cx="431.97" cy="24.17" r="2.4" fill="url(#gr)"/><circle cx="434.30" cy="23.85" r="2.4" fill="url(#gr)"/><circle cx="436.62" cy="23.73" r="2.4" fill="url(#gr)"/><circle cx="438.95" cy="24.13" r="2.4" fill="url(#gr)"/><circle cx="441.27" cy="23.63" r="2.4" fill="url(#gr)"/><circle cx="443.60" cy="24.07" r="2.4" fill="url(#gr)"/><circle cx="445.92" cy="24.03" r="2.4" fill="url(#gr)"/><circle cx="448.25" cy="23.41" r="2.4" fill="url(#gr)"/><circle cx="450.57" cy="23.45" r="2.4" fill="url(#gr)"/><circle cx="452.90" cy="23.49" r="2.4" fill="url(#gr)"/><circle cx="455.22" cy="23.44" r="2.4" fill="url(#gr)"/><circle cx="457.55" cy="23.79" r="2.4" fill="url(#gr)"/><circle cx="459.88" cy="23.46" r="2.4" fill="url(#gr)"/><circle cx="462.20" cy="23.62" r="2.4" fill="url(#gr)"/><circle cx="464.52" cy="23.33" r="2.4" fill="url(#gr)"/><circle cx="466.85" cy="24.11" r="2.4" fill="url(#gr)"/><circle cx="469.17" cy="23.55" r="2.4" fill="url(#gr)"/><circle cx="471.50" cy="23.66" r="2.4" fill="url(#gr)"/><circle cx="473.82" cy="23.78" r="2.4" fill="url(#gr)"/><circle cx="476.15" cy="24.10" r="2.4" fill="url(#gr)"/><circle cx="478.47" cy="23.62" r="2.4" fill="url(#gr)"/><circle cx="480.80" cy="24.12" r="2.4" fill="url(#gr)"/><circle cx="483.12" cy="23.70" r="2.4" fill="url(#gr)"/><circle cx="485.45" cy="23.73" r="2.4" fill="url(#gr)"/><circle cx="487.77" cy="23.72" r="2.4" fill="url(#gr)"/><circle cx="490.10" cy="23.22" r="2.4" fill="url(#gr)"/><circle cx="492.42" cy="23.64" r="2.4" fill="url(#gr)"/><circle cx="494.75" cy="23.38" r="2.4" fill="url(#gr)"/><circle cx="497.07" cy="23.20" r="2.4" fill="url(#gr)"/><circle cx="499.40" cy="24.00" r="2.4" fill="url(#gr)"/><circle cx="501.73" cy="23.37" r="2.4" fill="url(#gr)"/><circle cx="504.05" cy="23.67" r="2.4" fill="url(#gr)"/><circle cx="506.38" cy="23.93" r="2.4" fill="url(#gr)"/><circle cx="508.70" cy="23.76" r="2.4" fill="url(#gr)"/><circle cx="511.02" cy="23.53" r="2.4" fill="url(#gr)"/><circle cx="513.35" cy="23.72" r="2.4" fill="url(#gr)"/><circle cx="515.67" cy="23.76" r="2.4" fill="url(#gr)"/><circle cx="518.00" cy="23.98" r="2.4" fill="url(#gr)"/><circle cx="520.33" cy="23.31" r="2.4" fill="url(#gr)"/><circle cx="522.65" cy="23.76" r="2.4" fill="url(#gr)"/><circle cx="524.98" cy="23.45" r="2.4" fill="url(#gr)"/><circle cx="527.30" cy="23.48" r="2.4" fill="url(#gr)"/><circle cx="529.62" cy="23.97" r="2.4" fill="url(#gr)"/><circle cx="531.95" cy="23.71" r="2.4" fill="url(#gr)"/><circle cx="534.27" cy="23.76" r="2.4" fill="url(#gr)"/><circle cx="536.60" cy="23.96" r="2.4" fill="url(#gr)"/><circle cx="538.92" cy="24.11" r="2.4" fill="url(#gr)"/><circle cx="541.25" cy="23.64" r="2.4" fill="url(#gr)"/><circle cx="543.58" cy="23.81" r="2.4" fill="url(#gr)"/><circle cx="545.90" cy="23.71" r="2.4" fill="url(#gr)"/><circle cx="548.23" cy="23.71" r="2.4" fill="url(#gr)"/><circle cx="550.55" cy="23.89" r="2.4" fill="url(#gr)"/><circle cx="552.88" cy="23.65" r="2.4" fill="url(#gr)"/><circle cx="555.20" cy="23.73" r="2.4" fill="url(#gr)"/><circle cx="557.52" cy="23.68" r="2.4" fill="url(#gr)"/><circle cx="559.85" cy="24.14" r="2.4" fill="url(#gr)"/><circle cx="562.17" cy="23.90" r="2.4" fill="url(#gr)"/><circle cx="564.50" cy="24.08" r="2.4" fill="url(#gr)"/><circle cx="566.83" cy="24.14" r="2.4" fill="url(#gr)"/><circle cx="569.15" cy="23.46" r="2.4" fill="url(#gr)"/><circle cx="571.48" cy="23.76" r="2.4" fill="url(#gr)"/><circle cx="573.80" cy="24.14" r="2.4" fill="url(#gr)"/><circle cx="576.12" cy="24.04" r="2.4" fill="url(#gr)"/><circle cx="578.45" cy="23.34" r="2.4" fill="url(#gr)"/><circle cx="580.77" cy="23.32" r="2.4" fill="url(#gr)"/><circle cx="583.10" cy="23.64" r="2.4" fill="url(#gr)"/><circle cx="585.42" cy="23.27" r="2.4" fill="url(#gr)"/><circle cx="587.75" cy="23.44" r="2.4" fill="url(#gr)"/><circle cx="590.08" cy="23.27" r="2.4" fill="url(#gr)"/><circle cx="592.40" cy="23.87" r="2.4" fill="url(#gr)"/><circle cx="362.22" cy="45.8" r="2.3" fill="url(#gk)"/><circle cx="362.22" cy="34.7" r="2.3" fill="url(#gr)"/><circle cx="537.4" cy="38.3" r="2.4" fill="url(#gk)"/><circle cx="537.4" cy="54.6" r="2.4" fill="url(#gr)"/></g>
<rect x="52.80" y="247.60" width="238.50" height="191.60" fill="none" stroke="#000" stroke-width="1.5"/>
<line x1="52.80" y1="439.20" x2="48.55" y2="439.20" stroke="#000" stroke-width="1.2"/>
<line x1="52.80" y1="391.30" x2="48.55" y2="391.30" stroke="#000" stroke-width="1.2"/>
<line x1="52.80" y1="343.40" x2="48.55" y2="343.40" stroke="#000" stroke-width="1.2"/>
<line x1="52.80" y1="295.50" x2="48.55" y2="295.50" stroke="#000" stroke-width="1.2"/>
<line x1="52.80" y1="247.60" x2="48.55" y2="247.60" stroke="#000" stroke-width="1.2"/>
<line x1="52.80" y1="415.25" x2="50.05" y2="415.25" stroke="#000" stroke-width="1.0"/>
<line x1="52.80" y1="367.35" x2="50.05" y2="367.35" stroke="#000" stroke-width="1.0"/>
<line x1="52.80" y1="319.45" x2="50.05" y2="319.45" stroke="#000" stroke-width="1.0"/>
<line x1="52.80" y1="271.55" x2="50.05" y2="271.55" stroke="#000" stroke-width="1.0"/>
<text x="48.3" y="444.5" font-size="15.5" text-anchor="end" >50</text>
<text x="48.3" y="396.6" font-size="15.5" text-anchor="end" >100</text>
<text x="48.3" y="348.7" font-size="15.5" text-anchor="end" >150</text>
<text x="48.3" y="300.8" font-size="15.5" text-anchor="end" >200</text>
<text x="48.3" y="252.9" font-size="15.5" text-anchor="end" >250</text>
<line x1="64.00" y1="439.20" x2="64.00" y2="443.45" stroke="#000" stroke-width="1.2"/>
<line x1="107.40" y1="439.20" x2="107.40" y2="443.45" stroke="#000" stroke-width="1.2"/>
<line x1="150.80" y1="439.20" x2="150.80" y2="443.45" stroke="#000" stroke-width="1.2"/>
<line x1="194.20" y1="439.20" x2="194.20" y2="443.45" stroke="#000" stroke-width="1.2"/>
<line x1="237.60" y1="439.20" x2="237.60" y2="443.45" stroke="#000" stroke-width="1.2"/>
<line x1="281.00" y1="439.20" x2="281.00" y2="443.45" stroke="#000" stroke-width="1.2"/>
<text x="64.0" y="456.5" font-size="15.5" text-anchor="middle" >0</text>
<text x="107.4" y="456.5" font-size="15.5" text-anchor="middle" >20</text>
<text x="150.8" y="456.5" font-size="15.5" text-anchor="middle" >40</text>
<text x="194.2" y="456.5" font-size="15.5" text-anchor="middle" >60</text>
<text x="237.6" y="456.5" font-size="15.5" text-anchor="middle" >80</text>
<text x="281.0" y="456.5" font-size="15.5" text-anchor="middle" >100</text>
<text x="58.2" y="263.4" font-size="16.0" text-anchor="start" >(c) Cycle satability</text>
<text x="124.3" y="478.8" font-size="16.0" text-anchor="start" >Cycle number</text>
<text transform="translate(14.0,341.4) rotate(-90)" x="0" y="0" font-size="16.0" text-anchor="middle">Capacity (mAh·g<tspan font-size="0.62em" dy="-0.72em">-1</tspan><tspan dy="0.446em">)</tspan></text>
<text x="64.3" y="410.0" font-size="15.9" text-anchor="start" >2.7-4.5V , 0.5C , 25 °C</text>
<text x="240.6" y="318.0" font-size="15.6" text-anchor="start" >LNO-1</text>
<text x="236.9" y="369.3" font-size="15.7" text-anchor="start" >LNO-0</text>
<g><rect x="64.27" y="266.90" width="3.8" height="3.8" fill="#fff" stroke="#6a6a6a" stroke-width="0.9"/><rect x="66.44" y="281.24" width="3.8" height="3.8" fill="#fff" stroke="#6a6a6a" stroke-width="0.9"/><rect x="68.61" y="283.82" width="3.8" height="3.8" fill="#fff" stroke="#6a6a6a" stroke-width="0.9"/><rect x="70.78" y="285.51" width="3.8" height="3.8" fill="#fff" stroke="#6a6a6a" stroke-width="0.9"/><rect x="72.95" y="286.94" width="3.8" height="3.8" fill="#fff" stroke="#6a6a6a" stroke-width="0.9"/><rect x="75.12" y="289.27" width="3.8" height="3.8" fill="#fff" stroke="#6a6a6a" stroke-width="0.9"/><rect x="77.29" y="292.18" width="3.8" height="3.8" fill="#fff" stroke="#6a6a6a" stroke-width="0.9"/><rect x="79.46" y="294.76" width="3.8" height="3.8" fill="#fff" stroke="#6a6a6a" stroke-width="0.9"/><rect x="81.63" y="296.93" width="3.8" height="3.8" fill="#fff" stroke="#6a6a6a" stroke-width="0.9"/><rect x="83.80" y="299.10" width="3.8" height="3.8" fill="#fff" stroke="#6a6a6a" stroke-width="0.9"/><rect x="85.97" y="301.27" width="3.8" height="3.8" fill="#fff" stroke="#6a6a6a" stroke-width="0.9"/><rect x="88.14" y="303.40" width="3.8" height="3.8" fill="#fff" stroke="#6a6a6a" stroke-width="0.9"/><rect x="90.31" y="305.20" width="3.8" height="3.8" fill="#fff" stroke="#6a6a6a" stroke-width="0.9"/><rect x="92.48" y="307.00" width="3.8" height="3.8" fill="#fff" stroke="#6a6a6a" stroke-width="0.9"/><rect x="94.65" y="308.84" width="3.8" height="3.8" fill="#fff" stroke="#6a6a6a" stroke-width="0.9"/><rect x="96.82" y="310.69" width="3.8" height="3.8" fill="#fff" stroke="#6a6a6a" stroke-width="0.9"/><rect x="98.99" y="312.11" width="3.8" height="3.8" fill="#fff" stroke="#6a6a6a" stroke-width="0.9"/><rect x="101.16" y="313.40" width="3.8" height="3.8" fill="#fff" stroke="#6a6a6a" stroke-width="0.9"/><rect x="103.33" y="314.69" width="3.8" height="3.8" fill="#fff" stroke="#6a6a6a" stroke-width="0.9"/><rect x="105.50" y="315.92" width="3.8" height="3.8" fill="#fff" stroke="#6a6a6a" stroke-width="0.9"/><rect x="107.67" y="316.79" width="3.8" height="3.8" fill="#fff" stroke="#6a6a6a" stroke-width="0.9"/><rect x="109.84" y="317.66" width="3.8" height="3.8" fill="#fff" stroke="#6a6a6a" stroke-width="0.9"/><rect x="112.01" y="318.53" width="3.8" height="3.8" fill="#fff" stroke="#6a6a6a" stroke-width="0.9"/><rect x="114.18" y="319.40" width="3.8" height="3.8" fill="#fff" stroke="#6a6a6a" stroke-width="0.9"/><rect x="116.35" y="320.27" width="3.8" height="3.8" fill="#fff" stroke="#6a6a6a" stroke-width="0.9"/><rect x="118.52" y="321.14" width="3.8" height="3.8" fill="#fff" stroke="#6a6a6a" stroke-width="0.9"/><rect x="120.69" y="322.02" width="3.8" height="3.8" fill="#fff" stroke="#6a6a6a" stroke-width="0.9"/><rect x="122.86" y="322.69" width="3.8" height="3.8" fill="#fff" stroke="#6a6a6a" stroke-width="0.9"/><rect x="125.03" y="323.34" width="3.8" height="3.8" fill="#fff" stroke="#6a6a6a" stroke-width="0.9"/><rect x="127.20" y="323.99" width="3.8" height="3.8" fill="#fff" stroke="#6a6a6a" stroke-width="0.9"/><rect x="129.37" y="324.64" width="3.8" height="3.8" fill="#fff" stroke="#6a6a6a" stroke-width="0.9"/><rect x="131.54" y="325.29" width="3.8" height="3.8" fill="#fff" stroke="#6a6a6a" stroke-width="0.9"/><rect x="133.71" y="325.93" width="3.8" height="3.8" fill="#fff" stroke="#6a6a6a" stroke-width="0.9"/><rect x="135.88" y="326.58" width="3.8" height="3.8" fill="#fff" stroke="#6a6a6a" stroke-width="0.9"/><rect x="138.05" y="327.12" width="3.8" height="3.8" fill="#fff" stroke="#6a6a6a" stroke-width="0.9"/><rect x="140.22" y="327.59" width="3.8" height="3.8" fill="#fff" stroke="#6a6a6a" stroke-width="0.9"/><rect x="142.39" y="328.07" width="3.8" height="3.8" fill="#fff" stroke="#6a6a6a" stroke-width="0.9"/><rect x="144.56" y="328.54" width="3.8" height="3.8" fill="#fff" stroke="#6a6a6a" stroke-width="0.9"/><rect x="146.73" y="329.01" width="3.8" height="3.8" fill="#fff" stroke="#6a6a6a" stroke-width="0.9"/><rect x="148.90" y="329.49" width="3.8" height="3.8" fill="#fff" stroke="#6a6a6a" stroke-width="0.9"/><rect x="151.07" y="329.96" width="3.8" height="3.8" fill="#fff" stroke="#6a6a6a" stroke-width="0.9"/><rect x="153.24" y="330.44" width="3.8" height="3.8" fill="#fff" stroke="#6a6a6a" stroke-width="0.9"/><rect x="155.41" y="330.91" width="3.8" height="3.8" fill="#fff" stroke="#6a6a6a" stroke-width="0.9"/><rect x="157.58" y="331.39" width="3.8" height="3.8" fill="#fff" stroke="#6a6a6a" stroke-width="0.9"/><rect x="159.75" y="331.81" width="3.8" height="3.8" fill="#fff" stroke="#6a6a6a" stroke-width="0.9"/><rect x="161.92" y="332.21" width="3.8" height="3.8" fill="#fff" stroke="#6a6a6a" stroke-width="0.9"/><rect x="164.09" y="332.62" width="3.8" height="3.8" fill="#fff" stroke="#6a6a6a" stroke-width="0.9"/><rect x="166.26" y="333.02" width="3.8" height="3.8" fill="#fff" stroke="#6a6a6a" stroke-width="0.9"/><rect x="168.43" y="333.43" width="3.8" height="3.8" fill="#fff" stroke="#6a6a6a" stroke-width="0.9"/><rect x="170.60" y="333.83" width="3.8" height="3.8" fill="#fff" stroke="#6a6a6a" stroke-width="0.9"/><rect x="172.77" y="334.24" width="3.8" height="3.8" fill="#fff" stroke="#6a6a6a" stroke-width="0.9"/><rect x="174.94" y="334.64" width="3.8" height="3.8" fill="#fff" stroke="#6a6a6a" stroke-width="0.9"/><rect x="177.11" y="335.04" width="3.8" height="3.8" fill="#fff" stroke="#6a6a6a" stroke-width="0.9"/><rect x="179.28" y="335.45" width="3.8" height="3.8" fill="#fff" stroke="#6a6a6a" stroke-width="0.9"/><rect x="181.45" y="335.85" width="3.8" height="3.8" fill="#fff" stroke="#6a6a6a" stroke-width="0.9"/><rect x="183.62" y="336.25" width="3.8" height="3.8" fill="#fff" stroke="#6a6a6a" stroke-width="0.9"/><rect x="185.79" y="336.65" width="3.8" height="3.8" fill="#fff" stroke="#6a6a6a" stroke-width="0.9"/><rect x="187.96" y="337.05" width="3.8" height="3.8" fill="#fff" stroke="#6a6a6a" stroke-width="0.9"/><rect x="190.13" y="337.46" width="3.8" height="3.8" fill="#fff" stroke="#6a6a6a" stroke-width="0.9"/><rect x="192.30" y="337.86" width="3.8" height="3.8" fill="#fff" stroke="#6a6a6a" stroke-width="0.9"/><rect x="194.47" y="338.26" width="3.8" height="3.8" fill="#fff" stroke="#6a6a6a" stroke-width="0.9"/><rect x="196.64" y="338.66" width="3.8" height="3.8" fill="#fff" stroke="#6a6a6a" stroke-width="0.9"/><rect x="198.81" y="339.03" width="3.8" height="3.8" fill="#fff" stroke="#6a6a6a" stroke-width="0.9"/><rect x="200.98" y="339.41" width="3.8" height="3.8" fill="#fff" stroke="#6a6a6a" stroke-width="0.9"/><rect x="203.15" y="339.79" width="3.8" height="3.8" fill="#fff" stroke="#6a6a6a" stroke-width="0.9"/><rect x="205.32" y="340.16" width="3.8" height="3.8" fill="#fff" stroke="#6a6a6a" stroke-width="0.9"/><rect x="207.49" y="340.54" width="3.8" height="3.8" fill="#fff" stroke="#6a6a6a" stroke-width="0.9"/><rect x="209.66" y="340.91" width="3.8" height="3.8" fill="#fff" stroke="#6a6a6a" stroke-width="0.9"/><rect x="211.83" y="341.29" width="3.8" height="3.8" fill="#fff" stroke="#6a6a6a" stroke-width="0.9"/><rect x="214.00" y="341.66" width="3.8" height="3.8" fill="#fff" stroke="#6a6a6a" stroke-width="0.9"/><rect x="216.17" y="342.04" width="3.8" height="3.8" fill="#fff" stroke="#6a6a6a" stroke-width="0.9"/><rect x="218.34" y="342.42" width="3.8" height="3.8" fill="#fff" stroke="#6a6a6a" stroke-width="0.9"/><rect x="220.51" y="342.79" width="3.8" height="3.8" fill="#fff" stroke="#6a6a6a" stroke-width="0.9"/><rect x="222.68" y="343.17" width="3.8" height="3.8" fill="#fff" stroke="#6a6a6a" stroke-width="0.9"/><rect x="224.85" y="343.53" width="3.8" height="3.8" fill="#fff" stroke="#6a6a6a" stroke-width="0.9"/><rect x="227.02" y="343.83" width="3.8" height="3.8" fill="#fff" stroke="#6a6a6a" stroke-width="0.9"/><rect x="229.19" y="344.13" width="3.8" height="3.8" fill="#fff" stroke="#6a6a6a" stroke-width="0.9"/><rect x="231.36" y="344.43" width="3.8" height="3.8" fill="#fff" stroke="#6a6a6a" stroke-width="0.9"/><rect x="233.53" y="344.74" width="3.8" height="3.8" fill="#fff" stroke="#6a6a6a" stroke-width="0.9"/><rect x="235.70" y="345.04" width="3.8" height="3.8" fill="#fff" stroke="#6a6a6a" stroke-width="0.9"/><rect x="237.87" y="345.34" width="3.8" height="3.8" fill="#fff" stroke="#6a6a6a" stroke-width="0.9"/><rect x="240.04" y="345.64" width="3.8" height="3.8" fill="#fff" stroke="#6a6a6a" stroke-width="0.9"/><rect x="242.21" y="345.94" width="3.8" height="3.8" fill="#fff" stroke="#6a6a6a" stroke-width="0.9"/><rect x="244.38" y="346.24" width="3.8" height="3.8" fill="#fff" stroke="#6a6a6a" stroke-width="0.9"/><rect x="246.55" y="346.54" width="3.8" height="3.8" fill="#fff" stroke="#6a6a6a" stroke-width="0.9"/><rect x="248.72" y="346.84" width="3.8" height="3.8" fill="#fff" stroke="#6a6a6a" stroke-width="0.9"/><rect x="250.89" y="347.14" width="3.8" height="3.8" fill="#fff" stroke="#6a6a6a" stroke-width="0.9"/><rect x="253.06" y="347.44" width="3.8" height="3.8" fill="#fff" stroke="#6a6a6a" stroke-width="0.9"/><rect x="255.23" y="347.75" width="3.8" height="3.8" fill="#fff" stroke="#6a6a6a" stroke-width="0.9"/><rect x="257.40" y="348.07" width="3.8" height="3.8" fill="#fff" stroke="#6a6a6a" stroke-width="0.9"/><rect x="259.57" y="348.38" width="3.8" height="3.8" fill="#fff" stroke="#6a6a6a" stroke-width="0.9"/><rect x="261.74" y="348.69" width="3.8" height="3.8" fill="#fff" stroke="#6a6a6a" stroke-width="0.9"/><rect x="263.91" y="349.01" width="3.8" height="3.8" fill="#fff" stroke="#6a6a6a" stroke-width="0.9"/><rect x="266.08" y="349.32" width="3.8" height="3.8" fill="#fff" stroke="#6a6a6a" stroke-width="0.9"/><rect x="268.25" y="349.64" width="3.8" height="3.8" fill="#fff" stroke="#6a6a6a" stroke-width="0.9"/><rect x="270.42" y="349.95" width="3.8" height="3.8" fill="#fff" stroke="#6a6a6a" stroke-width="0.9"/><rect x="272.59" y="350.26" width="3.8" height="3.8" fill="#fff" stroke="#6a6a6a" stroke-width="0.9"/><rect x="274.76" y="350.58" width="3.8" height="3.8" fill="#fff" stroke="#6a6a6a" stroke-width="0.9"/><rect x="276.93" y="350.89" width="3.8" height="3.8" fill="#fff" stroke="#6a6a6a" stroke-width="0.9"/><rect x="279.10" y="351.21" width="3.8" height="3.8" fill="#fff" stroke="#6a6a6a" stroke-width="0.9"/><rect x="281.27" y="351.52" width="3.8" height="3.8" fill="#fff" stroke="#6a6a6a" stroke-width="0.9"/><rect x="283.44" y="351.83" width="3.8" height="3.8" fill="#fff" stroke="#6a6a6a" stroke-width="0.9"/></g>
<g><circle cx="66.17" cy="283.80" r="2.0" fill="#fff" stroke="#f07070" stroke-width="0.9"/><circle cx="68.34" cy="293.20" r="2.0" fill="#fff" stroke="#f07070" stroke-width="0.9"/><circle cx="70.51" cy="291.09" r="2.0" fill="#fff" stroke="#f07070" stroke-width="0.9"/><circle cx="72.68" cy="289.89" r="2.0" fill="#fff" stroke="#f07070" stroke-width="0.9"/><circle cx="74.85" cy="286.97" r="2.0" fill="#fff" stroke="#f07070" stroke-width="0.9"/><circle cx="77.02" cy="287.53" r="2.0" fill="#fff" stroke="#f07070" stroke-width="0.9"/><circle cx="79.19" cy="287.42" r="2.0" fill="#fff" stroke="#f07070" stroke-width="0.9"/><circle cx="81.36" cy="286.66" r="2.0" fill="#fff" stroke="#f07070" stroke-width="0.9"/><circle cx="83.53" cy="288.75" r="2.0" fill="#fff" stroke="#f07070" stroke-width="0.9"/><circle cx="85.70" cy="289.53" r="2.0" fill="#fff" stroke="#f07070" stroke-width="0.9"/><circle cx="87.87" cy="288.64" r="2.0" fill="#fff" stroke="#f07070" stroke-width="0.9"/><circle cx="90.04" cy="290.72" r="2.0" fill="#fff" stroke="#f07070" stroke-width="0.9"/><circle cx="92.21" cy="290.24" r="2.0" fill="#fff" stroke="#f07070" stroke-width="0.9"/><circle cx="94.38" cy="291.07" r="2.0" fill="#fff" stroke="#f07070" stroke-width="0.9"/><circle cx="96.55" cy="292.72" r="2.0" fill="#fff" stroke="#f07070" stroke-width="0.9"/><circle cx="98.72" cy="293.06" r="2.0" fill="#fff" stroke="#f07070" stroke-width="0.9"/><circle cx="100.89" cy="292.36" r="2.0" fill="#fff" stroke="#f07070" stroke-width="0.9"/><circle cx="103.06" cy="293.55" r="2.0" fill="#fff" stroke="#f07070" stroke-width="0.9"/><circle cx="105.23" cy="294.37" r="2.0" fill="#fff" stroke="#f07070" stroke-width="0.9"/><circle cx="107.40" cy="294.65" r="2.0" fill="#fff" stroke="#f07070" stroke-width="0.9"/><circle cx="109.57" cy="294.91" r="2.0" fill="#fff" stroke="#f07070" stroke-width="0.9"/><circle cx="111.74" cy="295.69" r="2.0" fill="#fff" stroke="#f07070" stroke-width="0.9"/><circle cx="113.91" cy="297.04" r="2.0" fill="#fff" stroke="#f07070" stroke-width="0.9"/><circle cx="116.08" cy="296.17" r="2.0" fill="#fff" stroke="#f07070" stroke-width="0.9"/><circle cx="118.25" cy="297.78" r="2.0" fill="#fff" stroke="#f07070" stroke-width="0.9"/><circle cx="120.42" cy="298.09" r="2.0" fill="#fff" stroke="#f07070" stroke-width="0.9"/><circle cx="122.59" cy="297.78" r="2.0" fill="#fff" stroke="#f07070" stroke-width="0.9"/><circle cx="124.76" cy="298.96" r="2.0" fill="#fff" stroke="#f07070" stroke-width="0.9"/><circle cx="126.93" cy="300.10" r="2.0" fill="#fff" stroke="#f07070" stroke-width="0.9"/><circle cx="129.10" cy="300.43" r="2.0" fill="#fff" stroke="#f07070" stroke-width="0.9"/><circle cx="131.27" cy="300.09" r="2.0" fill="#fff" stroke="#f07070" stroke-width="0.9"/><circle cx="133.44" cy="302.48" r="2.0" fill="#fff" stroke="#f07070" stroke-width="0.9"/><circle cx="135.61" cy="302.64" r="2.0" fill="#fff" stroke="#f07070" stroke-width="0.9"/><circle cx="137.78" cy="303.56" r="2.0" fill="#fff" stroke="#f07070" stroke-width="0.9"/><circle cx="139.95" cy="302.27" r="2.0" fill="#fff" stroke="#f07070" stroke-width="0.9"/><circle cx="142.12" cy="302.99" r="2.0" fill="#fff" stroke="#f07070" stroke-width="0.9"/><circle cx="144.29" cy="302.93" r="2.0" fill="#fff" stroke="#f07070" stroke-width="0.9"/><circle cx="146.46" cy="304.80" r="2.0" fill="#fff" stroke="#f07070" stroke-width="0.9"/><circle cx="148.63" cy="304.18" r="2.0" fill="#fff" stroke="#f07070" stroke-width="0.9"/><circle cx="150.80" cy="304.29" r="2.0" fill="#fff" stroke="#f07070" stroke-width="0.9"/><circle cx="152.97" cy="305.27" r="2.0" fill="#fff" stroke="#f07070" stroke-width="0.9"/><circle cx="155.14" cy="306.64" r="2.0" fill="#fff" stroke="#f07070" stroke-width="0.9"/><circle cx="157.31" cy="306.85" r="2.0" fill="#fff" stroke="#f07070" stroke-width="0.9"/><circle cx="159.48" cy="306.12" r="2.0" fill="#fff" stroke="#f07070" stroke-width="0.9"/><circle cx="161.65" cy="306.38" r="2.0" fill="#fff" stroke="#f07070" stroke-width="0.9"/><circle cx="163.82" cy="308.43" r="2.0" fill="#fff" stroke="#f07070" stroke-width="0.9"/><circle cx="165.99" cy="308.24" r="2.0" fill="#fff" stroke="#f07070" stroke-width="0.9"/><circle cx="168.16" cy="309.00" r="2.0" fill="#fff" stroke="#f07070" stroke-width="0.9"/><circle cx="170.33" cy="308.29" r="2.0" fill="#fff" stroke="#f07070" stroke-width="0.9"/><circle cx="172.50" cy="308.75" r="2.0" fill="#fff" stroke="#f07070" stroke-width="0.9"/><circle cx="174.67" cy="310.58" r="2.0" fill="#fff" stroke="#f07070" stroke-width="0.9"/><circle cx="176.84" cy="310.63" r="2.0" fill="#fff" stroke="#f07070" stroke-width="0.9"/><circle cx="179.01" cy="310.49" r="2.0" fill="#fff" stroke="#f07070" stroke-width="0.9"/><circle cx="181.18" cy="312.79" r="2.0" fill="#fff" stroke="#f07070" stroke-width="0.9"/><circle cx="183.35" cy="312.76" r="2.0" fill="#fff" stroke="#f07070" stroke-width="0.9"/><circle cx="185.52" cy="313.66" r="2.0" fill="#fff" stroke="#f07070" stroke-width="0.9"/><circle cx="187.69" cy="312.80" r="2.0" fill="#fff" stroke="#f07070" stroke-width="0.9"/><circle cx="189.86" cy="314.92" r="2.0" fill="#fff" stroke="#f07070" stroke-width="0.9"/><circle cx="192.03" cy="313.91" r="2.0" fill="#fff" stroke="#f07070" stroke-width="0.9"/><circle cx="194.20" cy="316.07" r="2.0" fill="#fff" stroke="#f07070" stroke-width="0.9"/><circle cx="196.37" cy="315.83" r="2.0" fill="#fff" stroke="#f07070" stroke-width="0.9"/><circle cx="198.54" cy="316.13" r="2.0" fill="#fff" stroke="#f07070" stroke-width="0.9"/><circle cx="200.71" cy="316.92" r="2.0" fill="#fff" stroke="#f07070" stroke-width="0.9"/><circle cx="202.88" cy="318.03" r="2.0" fill="#fff" stroke="#f07070" stroke-width="0.9"/><circle cx="205.05" cy="317.07" r="2.0" fill="#fff" stroke="#f07070" stroke-width="0.9"/><circle cx="207.22" cy="317.16" r="2.0" fill="#fff" stroke="#f07070" stroke-width="0.9"/><circle cx="209.39" cy="318.31" r="2.0" fill="#fff" stroke="#f07070" stroke-width="0.9"/><circle cx="211.56" cy="318.10" r="2.0" fill="#fff" stroke="#f07070" stroke-width="0.9"/><circle cx="213.73" cy="318.20" r="2.0" fill="#fff" stroke="#f07070" stroke-width="0.9"/><circle cx="215.90" cy="318.66" r="2.0" fill="#fff" stroke="#f07070" stroke-width="0.9"/><circle cx="218.07" cy="318.80" r="2.0" fill="#fff" stroke="#f07070" stroke-width="0.9"/><circle cx="220.24" cy="319.46" r="2.0" fill="#fff" stroke="#f07070" stroke-width="0.9"/><circle cx="222.41" cy="320.04" r="2.0" fill="#fff" stroke="#f07070" stroke-width="0.9"/><circle cx="224.58" cy="320.39" r="2.0" fill="#fff" stroke="#f07070" stroke-width="0.9"/><circle cx="226.75" cy="321.65" r="2.0" fill="#fff" stroke="#f07070" stroke-width="0.9"/><circle cx="228.92" cy="321.00" r="2.0" fill="#fff" stroke="#f07070" stroke-width="0.9"/><circle cx="231.09" cy="321.70" r="2.0" fill="#fff" stroke="#f07070" stroke-width="0.9"/><circle cx="233.26" cy="321.34" r="2.0" fill="#fff" stroke="#f07070" stroke-width="0.9"/><circle cx="235.43" cy="321.97" r="2.0" fill="#fff" stroke="#f07070" stroke-width="0.9"/><circle cx="237.60" cy="321.59" r="2.0" fill="#fff" stroke="#f07070" stroke-width="0.9"/><circle cx="239.77" cy="322.34" r="2.0" fill="#fff" stroke="#f07070" stroke-width="0.9"/><circle cx="241.94" cy="322.16" r="2.0" fill="#fff" stroke="#f07070" stroke-width="0.9"/><circle cx="244.11" cy="323.88" r="2.0" fill="#fff" stroke="#f07070" stroke-width="0.9"/><circle cx="246.28" cy="323.80" r="2.0" fill="#fff" stroke="#f07070" stroke-width="0.9"/><circle cx="248.45" cy="323.36" r="2.0" fill="#fff" stroke="#f07070" stroke-width="0.9"/><circle cx="250.62" cy="324.21" r="2.0" fill="#fff" stroke="#f07070" stroke-width="0.9"/><circle cx="252.79" cy="325.42" r="2.0" fill="#fff" stroke="#f07070" stroke-width="0.9"/><circle cx="254.96" cy="324.05" r="2.0" fill="#fff" stroke="#f07070" stroke-width="0.9"/><circle cx="257.13" cy="325.81" r="2.0" fill="#fff" stroke="#f07070" stroke-width="0.9"/><circle cx="259.30" cy="325.36" r="2.0" fill="#fff" stroke="#f07070" stroke-width="0.9"/><circle cx="261.47" cy="325.81" r="2.0" fill="#fff" stroke="#f07070" stroke-width="0.9"/><circle cx="263.64" cy="326.82" r="2.0" fill="#fff" stroke="#f07070" stroke-width="0.9"/><circle cx="265.81" cy="326.27" r="2.0" fill="#fff" stroke="#f07070" stroke-width="0.9"/><circle cx="267.98" cy="326.82" r="2.0" fill="#fff" stroke="#f07070" stroke-width="0.9"/><circle cx="270.15" cy="327.51" r="2.0" fill="#fff" stroke="#f07070" stroke-width="0.9"/><circle cx="272.32" cy="328.43" r="2.0" fill="#fff" stroke="#f07070" stroke-width="0.9"/><circle cx="274.49" cy="327.48" r="2.0" fill="#fff" stroke="#f07070" stroke-width="0.9"/><circle cx="276.66" cy="328.78" r="2.0" fill="#fff" stroke="#f07070" stroke-width="0.9"/><circle cx="278.83" cy="328.86" r="2.0" fill="#fff" stroke="#f07070" stroke-width="0.9"/><circle cx="281.00" cy="329.05" r="2.0" fill="#fff" stroke="#f07070" stroke-width="0.9"/><circle cx="283.17" cy="328.91" r="2.0" fill="#fff" stroke="#f07070" stroke-width="0.9"/><circle cx="285.34" cy="329.13" r="2.0" fill="#fff" stroke="#f07070" stroke-width="0.9"/></g>
<rect x="363.20" y="250.40" width="242.20" height="188.50" fill="none" stroke="#000" stroke-width="1.5"/>
<line x1="363.20" y1="439.02" x2="358.95" y2="439.02" stroke="#000" stroke-width="1.2"/>
<line x1="363.20" y1="401.30" x2="358.95" y2="401.30" stroke="#000" stroke-width="1.2"/>
<line x1="363.20" y1="363.57" x2="358.95" y2="363.57" stroke="#000" stroke-width="1.2"/>
<line x1="363.20" y1="325.85" x2="358.95" y2="325.85" stroke="#000" stroke-width="1.2"/>
<line x1="363.20" y1="288.12" x2="358.95" y2="288.12" stroke="#000" stroke-width="1.2"/>
<line x1="363.20" y1="250.40" x2="358.95" y2="250.40" stroke="#000" stroke-width="1.2"/>
<line x1="363.20" y1="420.16" x2="360.45" y2="420.16" stroke="#000" stroke-width="1.0"/>
<line x1="363.20" y1="382.44" x2="360.45" y2="382.44" stroke="#000" stroke-width="1.0"/>
<line x1="363.20" y1="344.71" x2="360.45" y2="344.71" stroke="#000" stroke-width="1.0"/>
<line x1="363.20" y1="306.99" x2="360.45" y2="306.99" stroke="#000" stroke-width="1.0"/>
<line x1="363.20" y1="269.26" x2="360.45" y2="269.26" stroke="#000" stroke-width="1.0"/>
<text x="356.5" y="444.3" font-size="15.5" text-anchor="end" >50</text>
<text x="356.5" y="406.6" font-size="15.5" text-anchor="end" >100</text>
<text x="356.5" y="368.8" font-size="15.5" text-anchor="end" >150</text>
<text x="356.5" y="331.1" font-size="15.5" text-anchor="end" >200</text>
<text x="356.5" y="293.4" font-size="15.5" text-anchor="end" >250</text>
<text x="356.5" y="255.7" font-size="15.5" text-anchor="end" >300</text>
<line x1="363.20" y1="438.90" x2="363.20" y2="443.15" stroke="#000" stroke-width="1.2"/>
<line x1="393.46" y1="438.90" x2="393.46" y2="443.15" stroke="#000" stroke-width="1.2"/>
<line x1="423.73" y1="438.90" x2="423.73" y2="443.15" stroke="#000" stroke-width="1.2"/>
<line x1="453.99" y1="438.90" x2="453.99" y2="443.15" stroke="#000" stroke-width="1.2"/>
<line x1="484.25" y1="438.90" x2="484.25" y2="443.15" stroke="#000" stroke-width="1.2"/>
<line x1="514.51" y1="438.90" x2="514.51" y2="443.15" stroke="#000" stroke-width="1.2"/>
<line x1="544.77" y1="438.90" x2="544.77" y2="443.15" stroke="#000" stroke-width="1.2"/>
<line x1="575.04" y1="438.90" x2="575.04" y2="443.15" stroke="#000" stroke-width="1.2"/>
<line x1="605.30" y1="438.90" x2="605.30" y2="443.15" stroke="#000" stroke-width="1.2"/>
<text x="363.2" y="458.0" font-size="15.5" text-anchor="middle" >-5</text>
<text x="393.5" y="458.0" font-size="15.5" text-anchor="middle" >0</text>
<text x="423.7" y="458.0" font-size="15.5" text-anchor="middle" >5</text>
<text x="454.0" y="458.0" font-size="15.5" text-anchor="middle" >10</text>
<text x="484.2" y="458.0" font-size="15.5" text-anchor="middle" >15</text>
<text x="514.5" y="458.0" font-size="15.5" text-anchor="middle" >20</text>
<text x="544.8" y="458.0" font-size="15.5" text-anchor="middle" >25</text>
<text x="575.0" y="458.0" font-size="15.5" text-anchor="middle" >30</text>
<text x="605.3" y="458.0" font-size="15.5" text-anchor="middle" >35</text>
<text x="367.8" y="266.1" font-size="16.2" text-anchor="start" >(d) Rate performance</text>
<text x="430.5" y="478.5" font-size="16.2" text-anchor="start" >Cycle number</text>
<text transform="translate(320.7,344.0) rotate(-90)" x="0" y="0" font-size="16.0" text-anchor="middle">Capacity (mAh·g<tspan font-size="0.62em" dy="-0.72em">-1</tspan><tspan dy="0.446em">)</tspan></text>
<text x="395.1" y="417.7" font-size="16.0" text-anchor="start" >2.7-4.3V , 0.5C , 25 °C</text>
<text x="547.7" y="269.0" font-size="16.0" text-anchor="start" >LNO-0</text>
<text x="547.7" y="289.0" font-size="16.0" text-anchor="start" >LNO-1</text>
<text x="403.8" y="297.6" font-size="9.6" text-anchor="start" >0.1C</text>
<text x="430.6" y="315.4" font-size="9.6" text-anchor="start" >0.5C</text>
<text x="466.9" y="325.8" font-size="9.6" text-anchor="start" >1C</text>
<text x="496.0" y="340.7" font-size="9.6" text-anchor="start" >2C</text>
<text x="527.0" y="361.3" font-size="9.6" text-anchor="start" >5C</text>
<text x="554.9" y="310.9" font-size="9.6" text-anchor="start" >0.1C</text>
<g><rect x="397.51" y="299.90" width="4.0" height="4.0" fill="#000"/><rect x="403.57" y="302.70" width="4.0" height="4.0" fill="#000"/><rect x="409.62" y="306.20" width="4.0" height="4.0" fill="#000"/><rect x="415.67" y="315.50" width="4.0" height="4.0" fill="#000"/><rect x="421.73" y="322.50" width="4.0" height="4.0" fill="#000"/><rect x="427.78" y="347.70" width="4.0" height="4.0" fill="#000"/><rect x="433.83" y="349.10" width="4.0" height="4.0" fill="#000"/><rect x="439.88" y="350.00" width="4.0" height="4.0" fill="#000"/><rect x="445.94" y="351.20" width="4.0" height="4.0" fill="#000"/><rect x="451.99" y="352.50" width="4.0" height="4.0" fill="#000"/><rect x="458.04" y="358.10" width="4.0" height="4.0" fill="#000"/><rect x="464.09" y="358.90" width="4.0" height="4.0" fill="#000"/><rect x="470.14" y="359.80" width="4.0" height="4.0" fill="#000"/><rect x="476.20" y="360.80" width="4.0" height="4.0" fill="#000"/><rect x="482.25" y="361.50" width="4.0" height="4.0" fill="#000"/><rect x="488.30" y="366.00" width="4.0" height="4.0" fill="#000"/><rect x="494.36" y="366.70" width="4.0" height="4.0" fill="#000"/><rect x="500.41" y="367.60" width="4.0" height="4.0" fill="#000"/><rect x="506.46" y="368.10" width="4.0" height="4.0" fill="#000"/><rect x="512.51" y="368.60" width="4.0" height="4.0" fill="#000"/><rect x="518.57" y="377.30" width="4.0" height="4.0" fill="#000"/><rect x="524.62" y="377.40" width="4.0" height="4.0" fill="#000"/><rect x="530.67" y="378.40" width="4.0" height="4.0" fill="#000"/><rect x="536.72" y="378.10" width="4.0" height="4.0" fill="#000"/><rect x="542.77" y="378.70" width="4.0" height="4.0" fill="#000"/><rect x="548.83" y="342.40" width="4.0" height="4.0" fill="#000"/><rect x="554.88" y="344.90" width="4.0" height="4.0" fill="#000"/><rect x="560.93" y="346.60" width="4.0" height="4.0" fill="#000"/><rect x="566.99" y="348.80" width="4.0" height="4.0" fill="#000"/><rect x="573.04" y="350.90" width="4.0" height="4.0" fill="#000"/><circle cx="399.51" cy="316.30" r="2.45" fill="#ff0000"/><circle cx="405.57" cy="310.20" r="2.45" fill="#ff0000"/><circle cx="411.62" cy="306.80" r="2.45" fill="#ff0000"/><circle cx="417.67" cy="305.60" r="2.45" fill="#ff0000"/><circle cx="423.73" cy="304.50" r="2.45" fill="#ff0000"/><circle cx="429.78" cy="322.30" r="2.45" fill="#ff0000"/><circle cx="435.83" cy="322.30" r="2.45" fill="#ff0000"/><circle cx="441.88" cy="322.30" r="2.45" fill="#ff0000"/><circle cx="447.94" cy="323.70" r="2.45" fill="#ff0000"/><circle cx="453.99" cy="324.40" r="2.45" fill="#ff0000"/><circle cx="460.04" cy="331.50" r="2.45" fill="#ff0000"/><circle cx="466.09" cy="332.20" r="2.45" fill="#ff0000"/><circle cx="472.14" cy="333.90" r="2.45" fill="#ff0000"/><circle cx="478.20" cy="335.30" r="2.45" fill="#ff0000"/><circle cx="484.25" cy="336.10" r="2.45" fill="#ff0000"/><circle cx="490.30" cy="345.90" r="2.45" fill="#ff0000"/><circle cx="496.36" cy="347.10" r="2.45" fill="#ff0000"/><circle cx="502.41" cy="348.00" r="2.45" fill="#ff0000"/><circle cx="508.46" cy="349.00" r="2.45" fill="#ff0000"/><circle cx="514.51" cy="350.60" r="2.45" fill="#ff0000"/><circle cx="520.57" cy="366.30" r="2.45" fill="#ff0000"/><circle cx="526.62" cy="366.70" r="2.45" fill="#ff0000"/><circle cx="532.67" cy="367.70" r="2.45" fill="#ff0000"/><circle cx="538.72" cy="368.40" r="2.45" fill="#ff0000"/><circle cx="544.77" cy="368.70" r="2.45" fill="#ff0000"/><circle cx="550.83" cy="317.60" r="2.45" fill="#ff0000"/><circle cx="556.88" cy="320.10" r="2.45" fill="#ff0000"/><circle cx="562.93" cy="319.00" r="2.45" fill="#ff0000"/><circle cx="568.99" cy="319.70" r="2.45" fill="#ff0000"/><circle cx="575.04" cy="321.10" r="2.45" fill="#ff0000"/><rect x="529.4" y="261.4" width="3.6" height="3.6" fill="#000"/><circle cx="531.2" cy="283" r="2.2" fill="#ff0000"/></g>
<rect x="71.10" y="502.00" width="520.20" height="218.30" fill="none" stroke="#000" stroke-width="1.5"/>
<line x1="71.10" y1="709.38" x2="66.85" y2="709.38" stroke="#000" stroke-width="1.2"/>
<line x1="71.10" y1="687.55" x2="66.85" y2="687.55" stroke="#000" stroke-width="1.2"/>
<line x1="71.10" y1="665.73" x2="66.85" y2="665.73" stroke="#000" stroke-width="1.2"/>
<line x1="71.10" y1="643.89" x2="66.85" y2="643.89" stroke="#000" stroke-width="1.2"/>
<line x1="71.10" y1="622.07" x2="66.85" y2="622.07" stroke="#000" stroke-width="1.2"/>
<line x1="71.10" y1="600.24" x2="66.85" y2="600.24" stroke="#000" stroke-width="1.2"/>
<line x1="71.10" y1="578.40" x2="66.85" y2="578.40" stroke="#000" stroke-width="1.2"/>
<line x1="71.10" y1="556.58" x2="66.85" y2="556.58" stroke="#000" stroke-width="1.2"/>
<line x1="71.10" y1="534.75" x2="66.85" y2="534.75" stroke="#000" stroke-width="1.2"/>
<line x1="71.10" y1="512.91" x2="66.85" y2="512.91" stroke="#000" stroke-width="1.2"/>
<line x1="71.10" y1="720.30" x2="68.35" y2="720.30" stroke="#000" stroke-width="1.0"/>
<line x1="71.10" y1="698.47" x2="68.35" y2="698.47" stroke="#000" stroke-width="1.0"/>
<line x1="71.10" y1="676.64" x2="68.35" y2="676.64" stroke="#000" stroke-width="1.0"/>
<line x1="71.10" y1="654.81" x2="68.35" y2="654.81" stroke="#000" stroke-width="1.0"/>
<line x1="71.10" y1="632.98" x2="68.35" y2="632.98" stroke="#000" stroke-width="1.0"/>
<line x1="71.10" y1="611.15" x2="68.35" y2="611.15" stroke="#000" stroke-width="1.0"/>
<line x1="71.10" y1="589.32" x2="68.35" y2="589.32" stroke="#000" stroke-width="1.0"/>
<line x1="71.10" y1="567.49" x2="68.35" y2="567.49" stroke="#000" stroke-width="1.0"/>
<line x1="71.10" y1="545.66" x2="68.35" y2="545.66" stroke="#000" stroke-width="1.0"/>
<line x1="71.10" y1="523.83" x2="68.35" y2="523.83" stroke="#000" stroke-width="1.0"/>
<line x1="71.10" y1="502.00" x2="68.35" y2="502.00" stroke="#000" stroke-width="1.0"/>
<text x="66.5" y="714.1" font-size="14" text-anchor="end" >40</text>
<text x="66.5" y="692.3" font-size="14" text-anchor="end" >60</text>
<text x="66.5" y="670.5" font-size="14" text-anchor="end" >80</text>
<text x="66.5" y="648.7" font-size="14" text-anchor="end" >100</text>
<text x="66.5" y="626.8" font-size="14" text-anchor="end" >120</text>
<text x="66.5" y="605.0" font-size="14" text-anchor="end" >140</text>
<text x="66.5" y="583.2" font-size="14" text-anchor="end" >160</text>
<text x="66.5" y="561.3" font-size="14" text-anchor="end" >180</text>
<text x="66.5" y="539.5" font-size="14" text-anchor="end" >200</text>
<text x="66.5" y="517.7" font-size="14" text-anchor="end" >220</text>
<line x1="83.70" y1="720.30" x2="83.70" y2="724.55" stroke="#000" stroke-width="1.2"/>
<line x1="207.47" y1="720.30" x2="207.47" y2="724.55" stroke="#000" stroke-width="1.2"/>
<line x1="331.25" y1="720.30" x2="331.25" y2="724.55" stroke="#000" stroke-width="1.2"/>
<line x1="455.02" y1="720.30" x2="455.02" y2="724.55" stroke="#000" stroke-width="1.2"/>
<line x1="578.80" y1="720.30" x2="578.80" y2="724.55" stroke="#000" stroke-width="1.2"/>
<line x1="145.59" y1="720.30" x2="145.59" y2="723.05" stroke="#000" stroke-width="1.0"/>
<line x1="269.36" y1="720.30" x2="269.36" y2="723.05" stroke="#000" stroke-width="1.0"/>
<line x1="393.14" y1="720.30" x2="393.14" y2="723.05" stroke="#000" stroke-width="1.0"/>
<line x1="516.91" y1="720.30" x2="516.91" y2="723.05" stroke="#000" stroke-width="1.0"/>
<text x="83.7" y="737.0" font-size="14.7" text-anchor="middle" >0</text>
<text x="207.5" y="737.0" font-size="14.7" text-anchor="middle" >50</text>
<text x="331.2" y="737.0" font-size="14.7" text-anchor="middle" >100</text>
<text x="455.0" y="737.0" font-size="14.7" text-anchor="middle" >150</text>
<text x="578.8" y="737.0" font-size="14.7" text-anchor="middle" >200</text>
<text x="83.1" y="526.2" font-size="19.4" text-anchor="start" >(e) Long time Cycle stability</text>
<text x="285.9" y="752.8" font-size="15.0" text-anchor="start" >Cycle number</text>
<text transform="translate(39.4,611.0) rotate(-90)" x="0" y="0" font-size="14.9" text-anchor="middle">Capacity (mAh·g<tspan font-size="0.62em" dy="-0.72em">-1</tspan><tspan dy="0.446em">)</tspan></text>
<text x="87.8" y="665.7" font-size="19.2" text-anchor="start" >2.7-4.3V , 0.5C , 25°C</text>
<text x="464.6" y="581.2" font-size="18.6" text-anchor="start" >LNO-1</text>
<text x="442.0" y="664.5" font-size="18.6" text-anchor="start" >LNO-0</text>
<g><circle cx="86.18" cy="540.60" r="2.5" fill="#fff" stroke="#6e6e6e" stroke-width="0.9"/><circle cx="88.65" cy="537.50" r="2.5" fill="#fff" stroke="#6e6e6e" stroke-width="0.9"/><circle cx="91.13" cy="539.13" r="2.5" fill="#fff" stroke="#6e6e6e" stroke-width="0.9"/><circle cx="93.60" cy="541.10" r="2.5" fill="#fff" stroke="#6e6e6e" stroke-width="0.9"/><circle cx="96.08" cy="543.58" r="2.5" fill="#fff" stroke="#6e6e6e" stroke-width="0.9"/><circle cx="98.55" cy="546.20" r="2.5" fill="#fff" stroke="#6e6e6e" stroke-width="0.9"/><circle cx="101.03" cy="549.07" r="2.5" fill="#fff" stroke="#6e6e6e" stroke-width="0.9"/><circle cx="103.50" cy="551.94" r="2.5" fill="#fff" stroke="#6e6e6e" stroke-width="0.9"/><circle cx="105.98" cy="554.48" r="2.5" fill="#fff" stroke="#6e6e6e" stroke-width="0.9"/><circle cx="108.45" cy="556.34" r="2.5" fill="#fff" stroke="#6e6e6e" stroke-width="0.9"/><circle cx="110.93" cy="558.20" r="2.5" fill="#fff" stroke="#6e6e6e" stroke-width="0.9"/><circle cx="113.41" cy="560.05" r="2.5" fill="#fff" stroke="#6e6e6e" stroke-width="0.9"/><circle cx="115.88" cy="561.74" r="2.5" fill="#fff" stroke="#6e6e6e" stroke-width="0.9"/><circle cx="118.36" cy="562.99" r="2.5" fill="#fff" stroke="#6e6e6e" stroke-width="0.9"/><circle cx="120.83" cy="564.24" r="2.5" fill="#fff" stroke="#6e6e6e" stroke-width="0.9"/><circle cx="123.31" cy="565.49" r="2.5" fill="#fff" stroke="#6e6e6e" stroke-width="0.9"/><circle cx="125.78" cy="566.66" r="2.5" fill="#fff" stroke="#6e6e6e" stroke-width="0.9"/><circle cx="128.26" cy="567.49" r="2.5" fill="#fff" stroke="#6e6e6e" stroke-width="0.9"/><circle cx="130.73" cy="568.31" r="2.5" fill="#fff" stroke="#6e6e6e" stroke-width="0.9"/><circle cx="133.21" cy="569.14" r="2.5" fill="#fff" stroke="#6e6e6e" stroke-width="0.9"/><circle cx="135.69" cy="569.96" r="2.5" fill="#fff" stroke="#6e6e6e" stroke-width="0.9"/><circle cx="138.16" cy="570.79" r="2.5" fill="#fff" stroke="#6e6e6e" stroke-width="0.9"/><circle cx="140.64" cy="571.57" r="2.5" fill="#fff" stroke="#6e6e6e" stroke-width="0.9"/><circle cx="143.11" cy="572.12" r="2.5" fill="#fff" stroke="#6e6e6e" stroke-width="0.9"/><circle cx="145.59" cy="572.67" r="2.5" fill="#fff" stroke="#6e6e6e" stroke-width="0.9"/><circle cx="148.06" cy="573.22" r="2.5" fill="#fff" stroke="#6e6e6e" stroke-width="0.9"/><circle cx="150.54" cy="573.77" r="2.5" fill="#fff" stroke="#6e6e6e" stroke-width="0.9"/><circle cx="153.01" cy="574.31" r="2.5" fill="#fff" stroke="#6e6e6e" stroke-width="0.9"/><circle cx="155.49" cy="574.86" r="2.5" fill="#fff" stroke="#6e6e6e" stroke-width="0.9"/><circle cx="157.97" cy="575.41" r="2.5" fill="#fff" stroke="#6e6e6e" stroke-width="0.9"/><circle cx="160.44" cy="575.96" r="2.5" fill="#fff" stroke="#6e6e6e" stroke-width="0.9"/><circle cx="162.92" cy="576.50" r="2.5" fill="#fff" stroke="#6e6e6e" stroke-width="0.9"/><circle cx="165.39" cy="576.99" r="2.5" fill="#fff" stroke="#6e6e6e" stroke-width="0.9"/><circle cx="167.87" cy="577.49" r="2.5" fill="#fff" stroke="#6e6e6e" stroke-width="0.9"/><circle cx="170.34" cy="577.98" r="2.5" fill="#fff" stroke="#6e6e6e" stroke-width="0.9"/><circle cx="172.82" cy="578.47" r="2.5" fill="#fff" stroke="#6e6e6e" stroke-width="0.9"/><circle cx="175.29" cy="578.96" r="2.5" fill="#fff" stroke="#6e6e6e" stroke-width="0.9"/><circle cx="177.77" cy="579.45" r="2.5" fill="#fff" stroke="#6e6e6e" stroke-width="0.9"/><circle cx="180.24" cy="579.94" r="2.5" fill="#fff" stroke="#6e6e6e" stroke-width="0.9"/><circle cx="182.72" cy="580.43" r="2.5" fill="#fff" stroke="#6e6e6e" stroke-width="0.9"/><circle cx="185.20" cy="580.92" r="2.5" fill="#fff" stroke="#6e6e6e" stroke-width="0.9"/><circle cx="187.67" cy="581.41" r="2.5" fill="#fff" stroke="#6e6e6e" stroke-width="0.9"/><circle cx="190.15" cy="581.85" r="2.5" fill="#fff" stroke="#6e6e6e" stroke-width="0.9"/><circle cx="192.62" cy="582.27" r="2.5" fill="#fff" stroke="#6e6e6e" stroke-width="0.9"/><circle cx="195.10" cy="582.70" r="2.5" fill="#fff" stroke="#6e6e6e" stroke-width="0.9"/><circle cx="197.57" cy="583.12" r="2.5" fill="#fff" stroke="#6e6e6e" stroke-width="0.9"/><circle cx="200.05" cy="583.55" r="2.5" fill="#fff" stroke="#6e6e6e" stroke-width="0.9"/><circle cx="202.52" cy="583.97" r="2.5" fill="#fff" stroke="#6e6e6e" stroke-width="0.9"/><circle cx="205.00" cy="584.40" r="2.5" fill="#fff" stroke="#6e6e6e" stroke-width="0.9"/><circle cx="207.47" cy="584.82" r="2.5" fill="#fff" stroke="#6e6e6e" stroke-width="0.9"/><circle cx="209.95" cy="585.24" r="2.5" fill="#fff" stroke="#6e6e6e" stroke-width="0.9"/><circle cx="212.43" cy="585.67" r="2.5" fill="#fff" stroke="#6e6e6e" stroke-width="0.9"/><circle cx="214.90" cy="586.11" r="2.5" fill="#fff" stroke="#6e6e6e" stroke-width="0.9"/><circle cx="217.38" cy="586.57" r="2.5" fill="#fff" stroke="#6e6e6e" stroke-width="0.9"/><circle cx="219.85" cy="587.02" r="2.5" fill="#fff" stroke="#6e6e6e" stroke-width="0.9"/><circle cx="222.33" cy="587.47" r="2.5" fill="#fff" stroke="#6e6e6e" stroke-width="0.9"/><circle cx="224.80" cy="587.93" r="2.5" fill="#fff" stroke="#6e6e6e" stroke-width="0.9"/><circle cx="227.28" cy="588.38" r="2.5" fill="#fff" stroke="#6e6e6e" stroke-width="0.9"/><circle cx="229.75" cy="588.84" r="2.5" fill="#fff" stroke="#6e6e6e" stroke-width="0.9"/><circle cx="232.23" cy="589.29" r="2.5" fill="#fff" stroke="#6e6e6e" stroke-width="0.9"/><circle cx="234.71" cy="589.75" r="2.5" fill="#fff" stroke="#6e6e6e" stroke-width="0.9"/><circle cx="237.18" cy="590.20" r="2.5" fill="#fff" stroke="#6e6e6e" stroke-width="0.9"/><circle cx="239.66" cy="590.66" r="2.5" fill="#fff" stroke="#6e6e6e" stroke-width="0.9"/><circle cx="242.13" cy="591.12" r="2.5" fill="#fff" stroke="#6e6e6e" stroke-width="0.9"/><circle cx="244.61" cy="591.58" r="2.5" fill="#fff" stroke="#6e6e6e" stroke-width="0.9"/><circle cx="247.08" cy="592.04" r="2.5" fill="#fff" stroke="#6e6e6e" stroke-width="0.9"/><circle cx="249.56" cy="592.50" r="2.5" fill="#fff" stroke="#6e6e6e" stroke-width="0.9"/><circle cx="252.03" cy="592.96" r="2.5" fill="#fff" stroke="#6e6e6e" stroke-width="0.9"/><circle cx="254.51" cy="593.42" r="2.5" fill="#fff" stroke="#6e6e6e" stroke-width="0.9"/><circle cx="256.99" cy="593.88" r="2.5" fill="#fff" stroke="#6e6e6e" stroke-width="0.9"/><circle cx="259.46" cy="594.34" r="2.5" fill="#fff" stroke="#6e6e6e" stroke-width="0.9"/><circle cx="261.94" cy="594.78" r="2.5" fill="#fff" stroke="#6e6e6e" stroke-width="0.9"/><circle cx="264.41" cy="595.15" r="2.5" fill="#fff" stroke="#6e6e6e" stroke-width="0.9"/><circle cx="266.89" cy="595.52" r="2.5" fill="#fff" stroke="#6e6e6e" stroke-width="0.9"/><circle cx="269.36" cy="595.89" r="2.5" fill="#fff" stroke="#6e6e6e" stroke-width="0.9"/><circle cx="271.84" cy="596.26" r="2.5" fill="#fff" stroke="#6e6e6e" stroke-width="0.9"/><circle cx="274.31" cy="596.63" r="2.5" fill="#fff" stroke="#6e6e6e" stroke-width="0.9"/><circle cx="276.79" cy="597.00" r="2.5" fill="#fff" stroke="#6e6e6e" stroke-width="0.9"/><circle cx="279.26" cy="597.37" r="2.5" fill="#fff" stroke="#6e6e6e" stroke-width="0.9"/><circle cx="281.74" cy="597.74" r="2.5" fill="#fff" stroke="#6e6e6e" stroke-width="0.9"/><circle cx="284.22" cy="598.12" r="2.5" fill="#fff" stroke="#6e6e6e" stroke-width="0.9"/><circle cx="286.69" cy="598.49" r="2.5" fill="#fff" stroke="#6e6e6e" stroke-width="0.9"/><circle cx="289.17" cy="598.86" r="2.5" fill="#fff" stroke="#6e6e6e" stroke-width="0.9"/><circle cx="291.64" cy="599.23" r="2.5" fill="#fff" stroke="#6e6e6e" stroke-width="0.9"/><circle cx="294.12" cy="599.60" r="2.5" fill="#fff" stroke="#6e6e6e" stroke-width="0.9"/><circle cx="296.59" cy="599.97" r="2.5" fill="#fff" stroke="#6e6e6e" stroke-width="0.9"/><circle cx="299.07" cy="600.34" r="2.5" fill="#fff" stroke="#6e6e6e" stroke-width="0.9"/><circle cx="301.54" cy="600.71" r="2.5" fill="#fff" stroke="#6e6e6e" stroke-width="0.9"/><circle cx="304.02" cy="601.08" r="2.5" fill="#fff" stroke="#6e6e6e" stroke-width="0.9"/><circle cx="306.50" cy="601.45" r="2.5" fill="#fff" stroke="#6e6e6e" stroke-width="0.9"/><circle cx="308.97" cy="601.82" r="2.5" fill="#fff" stroke="#6e6e6e" stroke-width="0.9"/><circle cx="311.45" cy="602.19" r="2.5" fill="#fff" stroke="#6e6e6e" stroke-width="0.9"/><circle cx="313.92" cy="602.56" r="2.5" fill="#fff" stroke="#6e6e6e" stroke-width="0.9"/><circle cx="316.40" cy="602.93" r="2.5" fill="#fff" stroke="#6e6e6e" stroke-width="0.9"/><circle cx="318.87" cy="603.30" r="2.5" fill="#fff" stroke="#6e6e6e" stroke-width="0.9"/><circle cx="321.35" cy="603.67" r="2.5" fill="#fff" stroke="#6e6e6e" stroke-width="0.9"/><circle cx="323.82" cy="604.04" r="2.5" fill="#fff" stroke="#6e6e6e" stroke-width="0.9"/><circle cx="326.30" cy="604.41" r="2.5" fill="#fff" stroke="#6e6e6e" stroke-width="0.9"/><circle cx="328.77" cy="604.78" r="2.5" fill="#fff" stroke="#6e6e6e" stroke-width="0.9"/><circle cx="331.25" cy="605.16" r="2.5" fill="#fff" stroke="#6e6e6e" stroke-width="0.9"/><circle cx="333.73" cy="605.53" r="2.5" fill="#fff" stroke="#6e6e6e" stroke-width="0.9"/><circle cx="336.20" cy="605.90" r="2.5" fill="#fff" stroke="#6e6e6e" stroke-width="0.9"/><circle cx="338.68" cy="606.27" r="2.5" fill="#fff" stroke="#6e6e6e" stroke-width="0.9"/><circle cx="341.15" cy="606.64" r="2.5" fill="#fff" stroke="#6e6e6e" stroke-width="0.9"/><circle cx="343.63" cy="607.01" r="2.5" fill="#fff" stroke="#6e6e6e" stroke-width="0.9"/><circle cx="346.10" cy="607.38" r="2.5" fill="#fff" stroke="#6e6e6e" stroke-width="0.9"/><circle cx="348.58" cy="607.75" r="2.5" fill="#fff" stroke="#6e6e6e" stroke-width="0.9"/><circle cx="351.05" cy="608.12" r="2.5" fill="#fff" stroke="#6e6e6e" stroke-width="0.9"/><circle cx="353.53" cy="608.49" r="2.5" fill="#fff" stroke="#6e6e6e" stroke-width="0.9"/><circle cx="356.00" cy="608.86" r="2.5" fill="#fff" stroke="#6e6e6e" stroke-width="0.9"/><circle cx="358.48" cy="609.23" r="2.5" fill="#fff" stroke="#6e6e6e" stroke-width="0.9"/><circle cx="360.96" cy="609.60" r="2.5" fill="#fff" stroke="#6e6e6e" stroke-width="0.9"/><circle cx="363.43" cy="609.97" r="2.5" fill="#fff" stroke="#6e6e6e" stroke-width="0.9"/><circle cx="365.91" cy="610.34" r="2.5" fill="#fff" stroke="#6e6e6e" stroke-width="0.9"/><circle cx="368.38" cy="610.71" r="2.5" fill="#fff" stroke="#6e6e6e" stroke-width="0.9"/><circle cx="370.86" cy="611.08" r="2.5" fill="#fff" stroke="#6e6e6e" stroke-width="0.9"/><circle cx="373.33" cy="611.45" r="2.5" fill="#fff" stroke="#6e6e6e" stroke-width="0.9"/><circle cx="375.81" cy="611.82" r="2.5" fill="#fff" stroke="#6e6e6e" stroke-width="0.9"/><circle cx="378.28" cy="612.20" r="2.5" fill="#fff" stroke="#6e6e6e" stroke-width="0.9"/><circle cx="380.76" cy="612.57" r="2.5" fill="#fff" stroke="#6e6e6e" stroke-width="0.9"/><circle cx="383.24" cy="612.94" r="2.5" fill="#fff" stroke="#6e6e6e" stroke-width="0.9"/><circle cx="385.71" cy="613.31" r="2.5" fill="#fff" stroke="#6e6e6e" stroke-width="0.9"/><circle cx="388.19" cy="613.71" r="2.5" fill="#fff" stroke="#6e6e6e" stroke-width="0.9"/><circle cx="390.66" cy="614.14" r="2.5" fill="#fff" stroke="#6e6e6e" stroke-width="0.9"/><circle cx="393.14" cy="614.58" r="2.5" fill="#fff" stroke="#6e6e6e" stroke-width="0.9"/><circle cx="395.61" cy="615.01" r="2.5" fill="#fff" stroke="#6e6e6e" stroke-width="0.9"/><circle cx="398.09" cy="615.45" r="2.5" fill="#fff" stroke="#6e6e6e" stroke-width="0.9"/><circle cx="400.56" cy="615.88" r="2.5" fill="#fff" stroke="#6e6e6e" stroke-width="0.9"/><circle cx="403.04" cy="616.32" r="2.5" fill="#fff" stroke="#6e6e6e" stroke-width="0.9"/><circle cx="405.51" cy="616.75" r="2.5" fill="#fff" stroke="#6e6e6e" stroke-width="0.9"/><circle cx="407.99" cy="617.19" r="2.5" fill="#fff" stroke="#6e6e6e" stroke-width="0.9"/><circle cx="410.47" cy="617.62" r="2.5" fill="#fff" stroke="#6e6e6e" stroke-width="0.9"/><circle cx="412.94" cy="618.06" r="2.5" fill="#fff" stroke="#6e6e6e" stroke-width="0.9"/><circle cx="415.42" cy="618.49" r="2.5" fill="#fff" stroke="#6e6e6e" stroke-width="0.9"/><circle cx="417.89" cy="618.93" r="2.5" fill="#fff" stroke="#6e6e6e" stroke-width="0.9"/><circle cx="420.37" cy="619.36" r="2.5" fill="#fff" stroke="#6e6e6e" stroke-width="0.9"/><circle cx="422.84" cy="619.73" r="2.5" fill="#fff" stroke="#6e6e6e" stroke-width="0.9"/><circle cx="425.32" cy="620.10" r="2.5" fill="#fff" stroke="#6e6e6e" stroke-width="0.9"/><circle cx="427.79" cy="620.47" r="2.5" fill="#fff" stroke="#6e6e6e" stroke-width="0.9"/><circle cx="430.27" cy="620.85" r="2.5" fill="#fff" stroke="#6e6e6e" stroke-width="0.9"/><circle cx="432.75" cy="621.22" r="2.5" fill="#fff" stroke="#6e6e6e" stroke-width="0.9"/><circle cx="435.22" cy="621.59" r="2.5" fill="#fff" stroke="#6e6e6e" stroke-width="0.9"/><circle cx="437.70" cy="621.96" r="2.5" fill="#fff" stroke="#6e6e6e" stroke-width="0.9"/><circle cx="440.17" cy="622.33" r="2.5" fill="#fff" stroke="#6e6e6e" stroke-width="0.9"/><circle cx="442.65" cy="622.71" r="2.5" fill="#fff" stroke="#6e6e6e" stroke-width="0.9"/><circle cx="445.12" cy="623.08" r="2.5" fill="#fff" stroke="#6e6e6e" stroke-width="0.9"/><circle cx="447.60" cy="623.45" r="2.5" fill="#fff" stroke="#6e6e6e" stroke-width="0.9"/><circle cx="450.07" cy="623.82" r="2.5" fill="#fff" stroke="#6e6e6e" stroke-width="0.9"/><circle cx="452.55" cy="624.20" r="2.5" fill="#fff" stroke="#6e6e6e" stroke-width="0.9"/><circle cx="455.02" cy="624.57" r="2.5" fill="#fff" stroke="#6e6e6e" stroke-width="0.9"/><circle cx="457.50" cy="624.94" r="2.5" fill="#fff" stroke="#6e6e6e" stroke-width="0.9"/><circle cx="459.98" cy="625.31" r="2.5" fill="#fff" stroke="#6e6e6e" stroke-width="0.9"/><circle cx="462.45" cy="625.69" r="2.5" fill="#fff" stroke="#6e6e6e" stroke-width="0.9"/><circle cx="464.93" cy="626.06" r="2.5" fill="#fff" stroke="#6e6e6e" stroke-width="0.9"/><circle cx="467.40" cy="626.43" r="2.5" fill="#fff" stroke="#6e6e6e" stroke-width="0.9"/><circle cx="469.88" cy="626.80" r="2.5" fill="#fff" stroke="#6e6e6e" stroke-width="0.9"/><circle cx="472.35" cy="627.18" r="2.5" fill="#fff" stroke="#6e6e6e" stroke-width="0.9"/><circle cx="474.83" cy="627.55" r="2.5" fill="#fff" stroke="#6e6e6e" stroke-width="0.9"/><circle cx="477.30" cy="627.96" r="2.5" fill="#fff" stroke="#6e6e6e" stroke-width="0.9"/><circle cx="479.78" cy="628.46" r="2.5" fill="#fff" stroke="#6e6e6e" stroke-width="0.9"/><circle cx="482.26" cy="628.95" r="2.5" fill="#fff" stroke="#6e6e6e" stroke-width="0.9"/><circle cx="484.73" cy="629.45" r="2.5" fill="#fff" stroke="#6e6e6e" stroke-width="0.9"/><circle cx="487.21" cy="629.94" r="2.5" fill="#fff" stroke="#6e6e6e" stroke-width="0.9"/><circle cx="489.68" cy="630.44" r="2.5" fill="#fff" stroke="#6e6e6e" stroke-width="0.9"/><circle cx="492.16" cy="630.93" r="2.5" fill="#fff" stroke="#6e6e6e" stroke-width="0.9"/><circle cx="494.63" cy="631.43" r="2.5" fill="#fff" stroke="#6e6e6e" stroke-width="0.9"/><circle cx="497.11" cy="631.92" r="2.5" fill="#fff" stroke="#6e6e6e" stroke-width="0.9"/><circle cx="499.58" cy="632.42" r="2.5" fill="#fff" stroke="#6e6e6e" stroke-width="0.9"/><circle cx="502.06" cy="632.91" r="2.5" fill="#fff" stroke="#6e6e6e" stroke-width="0.9"/><circle cx="504.53" cy="633.41" r="2.5" fill="#fff" stroke="#6e6e6e" stroke-width="0.9"/><circle cx="507.01" cy="633.90" r="2.5" fill="#fff" stroke="#6e6e6e" stroke-width="0.9"/><circle cx="509.49" cy="634.40" r="2.5" fill="#fff" stroke="#6e6e6e" stroke-width="0.9"/><circle cx="511.96" cy="634.89" r="2.5" fill="#fff" stroke="#6e6e6e" stroke-width="0.9"/><circle cx="514.44" cy="635.39" r="2.5" fill="#fff" stroke="#6e6e6e" stroke-width="0.9"/><circle cx="516.91" cy="635.88" r="2.5" fill="#fff" stroke="#6e6e6e" stroke-width="0.9"/><circle cx="519.39" cy="636.38" r="2.5" fill="#fff" stroke="#6e6e6e" stroke-width="0.9"/><circle cx="521.86" cy="636.87" r="2.5" fill="#fff" stroke="#6e6e6e" stroke-width="0.9"/><circle cx="524.34" cy="637.37" r="2.5" fill="#fff" stroke="#6e6e6e" stroke-width="0.9"/><circle cx="526.81" cy="637.86" r="2.5" fill="#fff" stroke="#6e6e6e" stroke-width="0.9"/><circle cx="529.29" cy="638.36" r="2.5" fill="#fff" stroke="#6e6e6e" stroke-width="0.9"/><circle cx="531.77" cy="638.85" r="2.5" fill="#fff" stroke="#6e6e6e" stroke-width="0.9"/><circle cx="534.24" cy="639.37" r="2.5" fill="#fff" stroke="#6e6e6e" stroke-width="0.9"/><circle cx="536.72" cy="639.90" r="2.5" fill="#fff" stroke="#6e6e6e" stroke-width="0.9"/><circle cx="539.19" cy="640.43" r="2.5" fill="#fff" stroke="#6e6e6e" stroke-width="0.9"/><circle cx="541.67" cy="640.97" r="2.5" fill="#fff" stroke="#6e6e6e" stroke-width="0.9"/><circle cx="544.14" cy="641.50" r="2.5" fill="#fff" stroke="#6e6e6e" stroke-width="0.9"/><circle cx="546.62" cy="642.03" r="2.5" fill="#fff" stroke="#6e6e6e" stroke-width="0.9"/><circle cx="549.09" cy="642.56" r="2.5" fill="#fff" stroke="#6e6e6e" stroke-width="0.9"/><circle cx="551.57" cy="643.10" r="2.5" fill="#fff" stroke="#6e6e6e" stroke-width="0.9"/><circle cx="554.04" cy="643.63" r="2.5" fill="#fff" stroke="#6e6e6e" stroke-width="0.9"/><circle cx="556.52" cy="644.16" r="2.5" fill="#fff" stroke="#6e6e6e" stroke-width="0.9"/><circle cx="559.00" cy="644.69" r="2.5" fill="#fff" stroke="#6e6e6e" stroke-width="0.9"/><circle cx="561.47" cy="645.23" r="2.5" fill="#fff" stroke="#6e6e6e" stroke-width="0.9"/><circle cx="563.95" cy="645.76" r="2.5" fill="#fff" stroke="#6e6e6e" stroke-width="0.9"/><circle cx="566.42" cy="646.29" r="2.5" fill="#fff" stroke="#6e6e6e" stroke-width="0.9"/><circle cx="568.90" cy="646.83" r="2.5" fill="#fff" stroke="#6e6e6e" stroke-width="0.9"/><circle cx="571.37" cy="647.36" r="2.5" fill="#fff" stroke="#6e6e6e" stroke-width="0.9"/><circle cx="573.85" cy="647.89" r="2.5" fill="#fff" stroke="#6e6e6e" stroke-width="0.9"/><circle cx="576.32" cy="648.42" r="2.5" fill="#fff" stroke="#6e6e6e" stroke-width="0.9"/><circle cx="578.80" cy="648.96" r="2.5" fill="#fff" stroke="#6e6e6e" stroke-width="0.9"/></g>
<g><circle cx="86.18" cy="557.20" r="2.5" fill="#fff" stroke="#f27878" stroke-width="0.9"/><circle cx="88.65" cy="550.60" r="2.5" fill="#fff" stroke="#f27878" stroke-width="0.9"/><circle cx="91.13" cy="546.40" r="2.5" fill="#fff" stroke="#f27878" stroke-width="0.9"/><circle cx="93.60" cy="540.75" r="2.5" fill="#fff" stroke="#f27878" stroke-width="0.9"/><circle cx="96.08" cy="539.88" r="2.5" fill="#fff" stroke="#f27878" stroke-width="0.9"/><circle cx="98.55" cy="538.81" r="2.5" fill="#fff" stroke="#f27878" stroke-width="0.9"/><circle cx="101.03" cy="539.14" r="2.5" fill="#fff" stroke="#f27878" stroke-width="0.9"/><circle cx="103.50" cy="538.46" r="2.5" fill="#fff" stroke="#f27878" stroke-width="0.9"/><circle cx="105.98" cy="538.33" r="2.5" fill="#fff" stroke="#f27878" stroke-width="0.9"/><circle cx="108.45" cy="538.22" r="2.5" fill="#fff" stroke="#f27878" stroke-width="0.9"/><circle cx="110.93" cy="539.28" r="2.5" fill="#fff" stroke="#f27878" stroke-width="0.9"/><circle cx="113.41" cy="539.32" r="2.5" fill="#fff" stroke="#f27878" stroke-width="0.9"/><circle cx="115.88" cy="539.04" r="2.5" fill="#fff" stroke="#f27878" stroke-width="0.9"/><circle cx="118.36" cy="538.49" r="2.5" fill="#fff" stroke="#f27878" stroke-width="0.9"/><circle cx="120.83" cy="538.44" r="2.5" fill="#fff" stroke="#f27878" stroke-width="0.9"/><circle cx="123.31" cy="538.51" r="2.5" fill="#fff" stroke="#f27878" stroke-width="0.9"/><circle cx="125.78" cy="538.78" r="2.5" fill="#fff" stroke="#f27878" stroke-width="0.9"/><circle cx="128.26" cy="538.53" r="2.5" fill="#fff" stroke="#f27878" stroke-width="0.9"/><circle cx="130.73" cy="539.11" r="2.5" fill="#fff" stroke="#f27878" stroke-width="0.9"/><circle cx="133.21" cy="539.04" r="2.5" fill="#fff" stroke="#f27878" stroke-width="0.9"/><circle cx="135.69" cy="540.19" r="2.5" fill="#fff" stroke="#f27878" stroke-width="0.9"/><circle cx="138.16" cy="540.38" r="2.5" fill="#fff" stroke="#f27878" stroke-width="0.9"/><circle cx="140.64" cy="539.97" r="2.5" fill="#fff" stroke="#f27878" stroke-width="0.9"/><circle cx="143.11" cy="539.72" r="2.5" fill="#fff" stroke="#f27878" stroke-width="0.9"/><circle cx="145.59" cy="540.91" r="2.5" fill="#fff" stroke="#f27878" stroke-width="0.9"/><circle cx="148.06" cy="540.17" r="2.5" fill="#fff" stroke="#f27878" stroke-width="0.9"/><circle cx="150.54" cy="540.42" r="2.5" fill="#fff" stroke="#f27878" stroke-width="0.9"/><circle cx="153.01" cy="540.32" r="2.5" fill="#fff" stroke="#f27878" stroke-width="0.9"/><circle cx="155.49" cy="541.25" r="2.5" fill="#fff" stroke="#f27878" stroke-width="0.9"/><circle cx="157.97" cy="541.77" r="2.5" fill="#fff" stroke="#f27878" stroke-width="0.9"/><circle cx="160.44" cy="542.20" r="2.5" fill="#fff" stroke="#f27878" stroke-width="0.9"/><circle cx="162.92" cy="542.18" r="2.5" fill="#fff" stroke="#f27878" stroke-width="0.9"/><circle cx="165.39" cy="543.00" r="2.5" fill="#fff" stroke="#f27878" stroke-width="0.9"/><circle cx="167.87" cy="542.69" r="2.5" fill="#fff" stroke="#f27878" stroke-width="0.9"/><circle cx="170.34" cy="543.45" r="2.5" fill="#fff" stroke="#f27878" stroke-width="0.9"/><circle cx="172.82" cy="543.60" r="2.5" fill="#fff" stroke="#f27878" stroke-width="0.9"/><circle cx="175.29" cy="544.43" r="2.5" fill="#fff" stroke="#f27878" stroke-width="0.9"/><circle cx="177.77" cy="544.35" r="2.5" fill="#fff" stroke="#f27878" stroke-width="0.9"/><circle cx="180.24" cy="544.74" r="2.5" fill="#fff" stroke="#f27878" stroke-width="0.9"/><circle cx="182.72" cy="545.56" r="2.5" fill="#fff" stroke="#f27878" stroke-width="0.9"/><circle cx="185.20" cy="545.89" r="2.5" fill="#fff" stroke="#f27878" stroke-width="0.9"/><circle cx="187.67" cy="546.80" r="2.5" fill="#fff" stroke="#f27878" stroke-width="0.9"/><circle cx="190.15" cy="547.15" r="2.5" fill="#fff" stroke="#f27878" stroke-width="0.9"/><circle cx="192.62" cy="547.88" r="2.5" fill="#fff" stroke="#f27878" stroke-width="0.9"/><circle cx="195.10" cy="548.18" r="2.5" fill="#fff" stroke="#f27878" stroke-width="0.9"/><circle cx="197.57" cy="548.68" r="2.5" fill="#fff" stroke="#f27878" stroke-width="0.9"/><circle cx="200.05" cy="549.34" r="2.5" fill="#fff" stroke="#f27878" stroke-width="0.9"/><circle cx="202.52" cy="549.02" r="2.5" fill="#fff" stroke="#f27878" stroke-width="0.9"/><circle cx="205.00" cy="549.30" r="2.5" fill="#fff" stroke="#f27878" stroke-width="0.9"/><circle cx="207.47" cy="550.58" r="2.5" fill="#fff" stroke="#f27878" stroke-width="0.9"/><circle cx="209.95" cy="549.77" r="2.5" fill="#fff" stroke="#f27878" stroke-width="0.9"/><circle cx="212.43" cy="550.93" r="2.5" fill="#fff" stroke="#f27878" stroke-width="0.9"/><circle cx="214.90" cy="551.18" r="2.5" fill="#fff" stroke="#f27878" stroke-width="0.9"/><circle cx="217.38" cy="550.70" r="2.5" fill="#fff" stroke="#f27878" stroke-width="0.9"/><circle cx="219.85" cy="552.17" r="2.5" fill="#fff" stroke="#f27878" stroke-width="0.9"/><circle cx="222.33" cy="552.61" r="2.5" fill="#fff" stroke="#f27878" stroke-width="0.9"/><circle cx="224.80" cy="552.60" r="2.5" fill="#fff" stroke="#f27878" stroke-width="0.9"/><circle cx="227.28" cy="553.11" r="2.5" fill="#fff" stroke="#f27878" stroke-width="0.9"/><circle cx="229.75" cy="553.57" r="2.5" fill="#fff" stroke="#f27878" stroke-width="0.9"/><circle cx="232.23" cy="552.99" r="2.5" fill="#fff" stroke="#f27878" stroke-width="0.9"/><circle cx="234.71" cy="553.89" r="2.5" fill="#fff" stroke="#f27878" stroke-width="0.9"/><circle cx="237.18" cy="554.29" r="2.5" fill="#fff" stroke="#f27878" stroke-width="0.9"/><circle cx="239.66" cy="555.18" r="2.5" fill="#fff" stroke="#f27878" stroke-width="0.9"/><circle cx="242.13" cy="555.57" r="2.5" fill="#fff" stroke="#f27878" stroke-width="0.9"/><circle cx="244.61" cy="556.03" r="2.5" fill="#fff" stroke="#f27878" stroke-width="0.9"/><circle cx="247.08" cy="556.12" r="2.5" fill="#fff" stroke="#f27878" stroke-width="0.9"/><circle cx="249.56" cy="556.99" r="2.5" fill="#fff" stroke="#f27878" stroke-width="0.9"/><circle cx="252.03" cy="557.12" r="2.5" fill="#fff" stroke="#f27878" stroke-width="0.9"/><circle cx="254.51" cy="557.57" r="2.5" fill="#fff" stroke="#f27878" stroke-width="0.9"/><circle cx="256.99" cy="557.35" r="2.5" fill="#fff" stroke="#f27878" stroke-width="0.9"/><circle cx="259.46" cy="557.51" r="2.5" fill="#fff" stroke="#f27878" stroke-width="0.9"/><circle cx="261.94" cy="558.07" r="2.5" fill="#fff" stroke="#f27878" stroke-width="0.9"/><circle cx="264.41" cy="558.77" r="2.5" fill="#fff" stroke="#f27878" stroke-width="0.9"/><circle cx="266.89" cy="558.79" r="2.5" fill="#fff" stroke="#f27878" stroke-width="0.9"/><circle cx="269.36" cy="560.19" r="2.5" fill="#fff" stroke="#f27878" stroke-width="0.9"/><circle cx="271.84" cy="560.18" r="2.5" fill="#fff" stroke="#f27878" stroke-width="0.9"/><circle cx="274.31" cy="560.65" r="2.5" fill="#fff" stroke="#f27878" stroke-width="0.9"/><circle cx="276.79" cy="561.03" r="2.5" fill="#fff" stroke="#f27878" stroke-width="0.9"/><circle cx="279.26" cy="561.48" r="2.5" fill="#fff" stroke="#f27878" stroke-width="0.9"/><circle cx="281.74" cy="561.59" r="2.5" fill="#fff" stroke="#f27878" stroke-width="0.9"/><circle cx="284.22" cy="561.29" r="2.5" fill="#fff" stroke="#f27878" stroke-width="0.9"/><circle cx="286.69" cy="562.78" r="2.5" fill="#fff" stroke="#f27878" stroke-width="0.9"/><circle cx="289.17" cy="563.09" r="2.5" fill="#fff" stroke="#f27878" stroke-width="0.9"/><circle cx="291.64" cy="563.13" r="2.5" fill="#fff" stroke="#f27878" stroke-width="0.9"/><circle cx="294.12" cy="563.48" r="2.5" fill="#fff" stroke="#f27878" stroke-width="0.9"/><circle cx="296.59" cy="563.90" r="2.5" fill="#fff" stroke="#f27878" stroke-width="0.9"/><circle cx="299.07" cy="563.31" r="2.5" fill="#fff" stroke="#f27878" stroke-width="0.9"/><circle cx="301.54" cy="564.49" r="2.5" fill="#fff" stroke="#f27878" stroke-width="0.9"/><circle cx="304.02" cy="564.06" r="2.5" fill="#fff" stroke="#f27878" stroke-width="0.9"/><circle cx="306.50" cy="564.06" r="2.5" fill="#fff" stroke="#f27878" stroke-width="0.9"/><circle cx="308.97" cy="564.57" r="2.5" fill="#fff" stroke="#f27878" stroke-width="0.9"/><circle cx="311.45" cy="565.46" r="2.5" fill="#fff" stroke="#f27878" stroke-width="0.9"/><circle cx="313.92" cy="564.97" r="2.5" fill="#fff" stroke="#f27878" stroke-width="0.9"/><circle cx="316.40" cy="565.97" r="2.5" fill="#fff" stroke="#f27878" stroke-width="0.9"/><circle cx="318.87" cy="566.54" r="2.5" fill="#fff" stroke="#f27878" stroke-width="0.9"/><circle cx="321.35" cy="566.11" r="2.5" fill="#fff" stroke="#f27878" stroke-width="0.9"/><circle cx="323.82" cy="566.20" r="2.5" fill="#fff" stroke="#f27878" stroke-width="0.9"/><circle cx="326.30" cy="566.74" r="2.5" fill="#fff" stroke="#f27878" stroke-width="0.9"/><circle cx="328.77" cy="567.47" r="2.5" fill="#fff" stroke="#f27878" stroke-width="0.9"/><circle cx="331.25" cy="568.03" r="2.5" fill="#fff" stroke="#f27878" stroke-width="0.9"/><circle cx="333.73" cy="568.26" r="2.5" fill="#fff" stroke="#f27878" stroke-width="0.9"/><circle cx="336.20" cy="568.74" r="2.5" fill="#fff" stroke="#f27878" stroke-width="0.9"/><circle cx="338.68" cy="568.39" r="2.5" fill="#fff" stroke="#f27878" stroke-width="0.9"/><circle cx="341.15" cy="568.93" r="2.5" fill="#fff" stroke="#f27878" stroke-width="0.9"/><circle cx="343.63" cy="569.52" r="2.5" fill="#fff" stroke="#f27878" stroke-width="0.9"/><circle cx="346.10" cy="570.65" r="2.5" fill="#fff" stroke="#f27878" stroke-width="0.9"/><circle cx="348.58" cy="570.47" r="2.5" fill="#fff" stroke="#f27878" stroke-width="0.9"/><circle cx="351.05" cy="571.28" r="2.5" fill="#fff" stroke="#f27878" stroke-width="0.9"/><circle cx="353.53" cy="570.95" r="2.5" fill="#fff" stroke="#f27878" stroke-width="0.9"/><circle cx="356.00" cy="571.43" r="2.5" fill="#fff" stroke="#f27878" stroke-width="0.9"/><circle cx="358.48" cy="572.02" r="2.5" fill="#fff" stroke="#f27878" stroke-width="0.9"/><circle cx="360.96" cy="572.89" r="2.5" fill="#fff" stroke="#f27878" stroke-width="0.9"/><circle cx="363.43" cy="573.22" r="2.5" fill="#fff" stroke="#f27878" stroke-width="0.9"/><circle cx="365.91" cy="573.49" r="2.5" fill="#fff" stroke="#f27878" stroke-width="0.9"/><circle cx="368.38" cy="573.25" r="2.5" fill="#fff" stroke="#f27878" stroke-width="0.9"/><circle cx="370.86" cy="573.87" r="2.5" fill="#fff" stroke="#f27878" stroke-width="0.9"/><circle cx="373.33" cy="574.10" r="2.5" fill="#fff" stroke="#f27878" stroke-width="0.9"/><circle cx="375.81" cy="574.40" r="2.5" fill="#fff" stroke="#f27878" stroke-width="0.9"/><circle cx="378.28" cy="574.21" r="2.5" fill="#fff" stroke="#f27878" stroke-width="0.9"/><circle cx="380.76" cy="575.60" r="2.5" fill="#fff" stroke="#f27878" stroke-width="0.9"/><circle cx="383.24" cy="574.92" r="2.5" fill="#fff" stroke="#f27878" stroke-width="0.9"/><circle cx="385.71" cy="576.31" r="2.5" fill="#fff" stroke="#f27878" stroke-width="0.9"/><circle cx="388.19" cy="576.66" r="2.5" fill="#fff" stroke="#f27878" stroke-width="0.9"/><circle cx="390.66" cy="575.88" r="2.5" fill="#fff" stroke="#f27878" stroke-width="0.9"/><circle cx="393.14" cy="577.01" r="2.5" fill="#fff" stroke="#f27878" stroke-width="0.9"/><circle cx="395.61" cy="578.02" r="2.5" fill="#fff" stroke="#f27878" stroke-width="0.9"/><circle cx="398.09" cy="578.74" r="2.5" fill="#fff" stroke="#f27878" stroke-width="0.9"/><circle cx="400.56" cy="578.52" r="2.5" fill="#fff" stroke="#f27878" stroke-width="0.9"/><circle cx="403.04" cy="578.78" r="2.5" fill="#fff" stroke="#f27878" stroke-width="0.9"/><circle cx="405.51" cy="579.21" r="2.5" fill="#fff" stroke="#f27878" stroke-width="0.9"/><circle cx="407.99" cy="580.75" r="2.5" fill="#fff" stroke="#f27878" stroke-width="0.9"/><circle cx="410.47" cy="580.23" r="2.5" fill="#fff" stroke="#f27878" stroke-width="0.9"/><circle cx="412.94" cy="581.26" r="2.5" fill="#fff" stroke="#f27878" stroke-width="0.9"/><circle cx="415.42" cy="581.15" r="2.5" fill="#fff" stroke="#f27878" stroke-width="0.9"/><circle cx="417.89" cy="582.20" r="2.5" fill="#fff" stroke="#f27878" stroke-width="0.9"/><circle cx="420.37" cy="583.28" r="2.5" fill="#fff" stroke="#f27878" stroke-width="0.9"/><circle cx="422.84" cy="582.46" r="2.5" fill="#fff" stroke="#f27878" stroke-width="0.9"/><circle cx="425.32" cy="583.75" r="2.5" fill="#fff" stroke="#f27878" stroke-width="0.9"/><circle cx="427.79" cy="583.64" r="2.5" fill="#fff" stroke="#f27878" stroke-width="0.9"/><circle cx="430.27" cy="584.50" r="2.5" fill="#fff" stroke="#f27878" stroke-width="0.9"/><circle cx="432.75" cy="584.57" r="2.5" fill="#fff" stroke="#f27878" stroke-width="0.9"/><circle cx="435.22" cy="584.23" r="2.5" fill="#fff" stroke="#f27878" stroke-width="0.9"/><circle cx="437.70" cy="585.49" r="2.5" fill="#fff" stroke="#f27878" stroke-width="0.9"/><circle cx="440.17" cy="585.24" r="2.5" fill="#fff" stroke="#f27878" stroke-width="0.9"/><circle cx="442.65" cy="584.93" r="2.5" fill="#fff" stroke="#f27878" stroke-width="0.9"/><circle cx="445.12" cy="585.22" r="2.5" fill="#fff" stroke="#f27878" stroke-width="0.9"/><circle cx="447.60" cy="586.23" r="2.5" fill="#fff" stroke="#f27878" stroke-width="0.9"/><circle cx="450.07" cy="586.50" r="2.5" fill="#fff" stroke="#f27878" stroke-width="0.9"/><circle cx="452.55" cy="586.62" r="2.5" fill="#fff" stroke="#f27878" stroke-width="0.9"/><circle cx="455.02" cy="586.72" r="2.5" fill="#fff" stroke="#f27878" stroke-width="0.9"/><circle cx="457.50" cy="587.33" r="2.5" fill="#fff" stroke="#f27878" stroke-width="0.9"/><circle cx="459.98" cy="587.62" r="2.5" fill="#fff" stroke="#f27878" stroke-width="0.9"/><circle cx="462.45" cy="588.68" r="2.5" fill="#fff" stroke="#f27878" stroke-width="0.9"/><circle cx="464.93" cy="587.82" r="2.5" fill="#fff" stroke="#f27878" stroke-width="0.9"/><circle cx="467.40" cy="589.18" r="2.5" fill="#fff" stroke="#f27878" stroke-width="0.9"/><circle cx="469.88" cy="589.61" r="2.5" fill="#fff" stroke="#f27878" stroke-width="0.9"/><circle cx="472.35" cy="588.92" r="2.5" fill="#fff" stroke="#f27878" stroke-width="0.9"/><circle cx="474.83" cy="590.36" r="2.5" fill="#fff" stroke="#f27878" stroke-width="0.9"/><circle cx="477.30" cy="590.37" r="2.5" fill="#fff" stroke="#f27878" stroke-width="0.9"/><circle cx="479.78" cy="590.95" r="2.5" fill="#fff" stroke="#f27878" stroke-width="0.9"/><circle cx="482.26" cy="590.40" r="2.5" fill="#fff" stroke="#f27878" stroke-width="0.9"/><circle cx="484.73" cy="590.83" r="2.5" fill="#fff" stroke="#f27878" stroke-width="0.9"/><circle cx="487.21" cy="591.17" r="2.5" fill="#fff" stroke="#f27878" stroke-width="0.9"/><circle cx="489.68" cy="592.33" r="2.5" fill="#fff" stroke="#f27878" stroke-width="0.9"/><circle cx="492.16" cy="592.06" r="2.5" fill="#fff" stroke="#f27878" stroke-width="0.9"/><circle cx="494.63" cy="592.06" r="2.5" fill="#fff" stroke="#f27878" stroke-width="0.9"/><circle cx="497.11" cy="592.46" r="2.5" fill="#fff" stroke="#f27878" stroke-width="0.9"/><circle cx="499.58" cy="592.56" r="2.5" fill="#fff" stroke="#f27878" stroke-width="0.9"/><circle cx="502.06" cy="592.55" r="2.5" fill="#fff" stroke="#f27878" stroke-width="0.9"/><circle cx="504.53" cy="592.94" r="2.5" fill="#fff" stroke="#f27878" stroke-width="0.9"/><circle cx="507.01" cy="594.27" r="2.5" fill="#fff" stroke="#f27878" stroke-width="0.9"/><circle cx="509.49" cy="593.82" r="2.5" fill="#fff" stroke="#f27878" stroke-width="0.9"/><circle cx="511.96" cy="595.04" r="2.5" fill="#fff" stroke="#f27878" stroke-width="0.9"/><circle cx="514.44" cy="594.39" r="2.5" fill="#fff" stroke="#f27878" stroke-width="0.9"/><circle cx="516.91" cy="594.72" r="2.5" fill="#fff" stroke="#f27878" stroke-width="0.9"/><circle cx="519.39" cy="595.41" r="2.5" fill="#fff" stroke="#f27878" stroke-width="0.9"/><circle cx="521.86" cy="595.46" r="2.5" fill="#fff" stroke="#f27878" stroke-width="0.9"/><circle cx="524.34" cy="596.22" r="2.5" fill="#fff" stroke="#f27878" stroke-width="0.9"/><circle cx="526.81" cy="597.54" r="2.5" fill="#fff" stroke="#f27878" stroke-width="0.9"/><circle cx="529.29" cy="597.94" r="2.5" fill="#fff" stroke="#f27878" stroke-width="0.9"/><circle cx="531.77" cy="598.34" r="2.5" fill="#fff" stroke="#f27878" stroke-width="0.9"/><circle cx="534.24" cy="598.58" r="2.5" fill="#fff" stroke="#f27878" stroke-width="0.9"/><circle cx="536.72" cy="599.48" r="2.5" fill="#fff" stroke="#f27878" stroke-width="0.9"/><circle cx="539.19" cy="600.02" r="2.5" fill="#fff" stroke="#f27878" stroke-width="0.9"/><circle cx="541.67" cy="599.97" r="2.5" fill="#fff" stroke="#f27878" stroke-width="0.9"/><circle cx="544.14" cy="600.71" r="2.5" fill="#fff" stroke="#f27878" stroke-width="0.9"/><circle cx="546.62" cy="600.27" r="2.5" fill="#fff" stroke="#f27878" stroke-width="0.9"/><circle cx="549.09" cy="601.63" r="2.5" fill="#fff" stroke="#f27878" stroke-width="0.9"/><circle cx="551.57" cy="601.60" r="2.5" fill="#fff" stroke="#f27878" stroke-width="0.9"/><circle cx="554.04" cy="602.40" r="2.5" fill="#fff" stroke="#f27878" stroke-width="0.9"/><circle cx="556.52" cy="602.62" r="2.5" fill="#fff" stroke="#f27878" stroke-width="0.9"/><circle cx="559.00" cy="602.49" r="2.5" fill="#fff" stroke="#f27878" stroke-width="0.9"/><circle cx="561.47" cy="602.53" r="2.5" fill="#fff" stroke="#f27878" stroke-width="0.9"/><circle cx="563.95" cy="604.13" r="2.5" fill="#fff" stroke="#f27878" stroke-width="0.9"/><circle cx="566.42" cy="603.39" r="2.5" fill="#fff" stroke="#f27878" stroke-width="0.9"/><circle cx="568.90" cy="604.24" r="2.5" fill="#fff" stroke="#f27878" stroke-width="0.9"/><circle cx="571.37" cy="604.43" r="2.5" fill="#fff" stroke="#f27878" stroke-width="0.9"/><circle cx="573.85" cy="604.74" r="2.5" fill="#fff" stroke="#f27878" stroke-width="0.9"/><circle cx="576.32" cy="605.73" r="2.5" fill="#fff" stroke="#f27878" stroke-width="0.9"/><circle cx="578.80" cy="606.44" r="2.5" fill="#fff" stroke="#f27878" stroke-width="0.9"/></g>
</svg></body></html>
